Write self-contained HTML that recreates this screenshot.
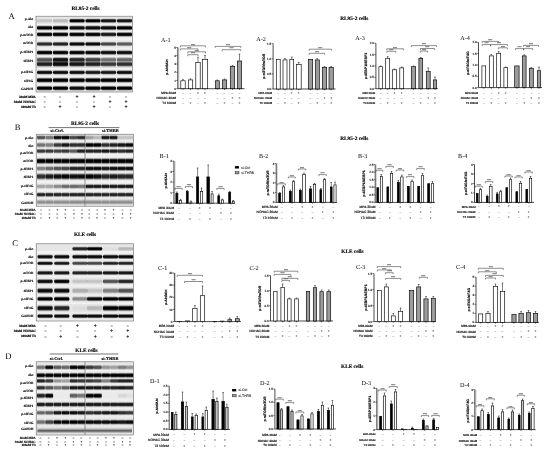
<!DOCTYPE html>
<html><head><meta charset="utf-8"><title>Figure</title>
<style>html,body{margin:0;padding:0;background:#fff;overflow:hidden;width:550px;height:454px;} svg{display:block;}</style>
</head><body>
<svg width="550" height="454" viewBox="0 0 550 454">
<style>text{text-rendering:geometricPrecision}.s{font-family:"Liberation Serif",serif}.sb{font-family:"Liberation Serif",serif;font-weight:bold}.a{font-family:"Liberation Sans",sans-serif}.ab{font-family:"Liberation Sans",sans-serif;font-weight:bold}.m{text-anchor:middle}.e{text-anchor:end}</style>
<rect width="550" height="454" fill="#fff"/>
<defs><linearGradient id="gb" x1="0" y1="0" x2="0" y2="1"><stop offset="0" stop-color="#000" stop-opacity="0"/><stop offset="0.14" stop-color="#000" stop-opacity="0.3"/><stop offset="0.28" stop-color="#000" stop-opacity="0.85"/><stop offset="0.4" stop-color="#000"/><stop offset="0.6" stop-color="#000"/><stop offset="0.72" stop-color="#000" stop-opacity="0.85"/><stop offset="0.86" stop-color="#000" stop-opacity="0.3"/><stop offset="1" stop-color="#000" stop-opacity="0"/></linearGradient>
<linearGradient id="gs" x1="0" y1="0" x2="0" y2="1"><stop offset="0" stop-color="#000" stop-opacity="0"/><stop offset="0.5" stop-color="#000"/><stop offset="1" stop-color="#000" stop-opacity="0"/></linearGradient></defs>
<text class="s" x="8.4" y="18.9" font-size="8.6">A</text>
<text class="sb m" x="85.5" y="10" font-size="5.3" stroke="#000" stroke-width="0.15">RL95-2 cells</text>
<rect x="36" y="16.2" width="96.5" height="75.8" fill="#f1f1f1"/>
<rect x="36" y="17" width="96.5" height="7" fill="#e6e6e6"/>
<rect x="36" y="25" width="96.5" height="6" fill="#e7e7e7"/>
<rect x="36" y="31.6" width="96.5" height="6" fill="#e8e8e8"/>
<rect x="36" y="40.5" width="96.5" height="7" fill="#e8e8e8"/>
<rect x="36" y="49.5" width="96.5" height="6.5" fill="#e8e8e8"/>
<rect x="36" y="57" width="96.5" height="11" fill="#dedede"/>
<rect x="36" y="69.5" width="96.5" height="6" fill="#e8e8e8"/>
<rect x="36" y="77" width="96.5" height="6.5" fill="#e6e6e6"/>
<rect x="36" y="85" width="96.5" height="6.5" fill="#e6e6e6"/>
<rect x="37" y="18.2" width="15.2" height="5.2" rx="2.43" ry="2.34" fill="url(#gb)" opacity="0.15"/>
<rect x="52.9" y="18.2" width="15.2" height="5.2" rx="2.43" ry="2.34" fill="url(#gb)" opacity="0.2"/>
<rect x="69.5" y="18.2" width="15.2" height="5.2" rx="2.43" ry="2.34" fill="url(#gb)" opacity="1"/>
<rect x="85.4" y="18.2" width="15.2" height="5.2" rx="2.43" ry="2.34" fill="url(#gb)" opacity="1"/>
<rect x="101" y="18.2" width="15.2" height="5.2" rx="2.43" ry="2.34" fill="url(#gb)" opacity="0.92"/>
<rect x="116.9" y="18.2" width="15.2" height="5.2" rx="2.43" ry="2.34" fill="url(#gb)" opacity="0.92"/>
<rect x="37" y="25.1" width="15.2" height="5.6" rx="2.43" ry="2.52" fill="url(#gb)" opacity="1"/>
<rect x="52.9" y="25.1" width="15.2" height="5.6" rx="2.43" ry="2.52" fill="url(#gb)" opacity="1"/>
<rect x="69.5" y="25.1" width="15.2" height="5.6" rx="2.43" ry="2.52" fill="url(#gb)" opacity="0.95"/>
<rect x="85.4" y="25.1" width="15.2" height="5.6" rx="2.43" ry="2.52" fill="url(#gb)" opacity="0.95"/>
<rect x="101" y="25.1" width="15.2" height="5.6" rx="2.43" ry="2.52" fill="url(#gb)" opacity="0.95"/>
<rect x="116.9" y="25.1" width="15.2" height="5.6" rx="2.43" ry="2.52" fill="url(#gb)" opacity="1"/>
<rect x="37" y="31.6" width="15.2" height="5.6" rx="2.43" ry="2.52" fill="url(#gb)" opacity="1"/>
<rect x="52.9" y="31.6" width="15.2" height="5.6" rx="2.43" ry="2.52" fill="url(#gb)" opacity="1"/>
<rect x="69.5" y="31.6" width="15.2" height="5.6" rx="2.43" ry="2.52" fill="url(#gb)" opacity="1"/>
<rect x="85.4" y="31.6" width="15.2" height="5.6" rx="2.43" ry="2.52" fill="url(#gb)" opacity="1"/>
<rect x="101" y="31.6" width="15.2" height="5.6" rx="2.43" ry="2.52" fill="url(#gb)" opacity="0.9"/>
<rect x="116.9" y="31.6" width="15.2" height="5.6" rx="2.43" ry="2.52" fill="url(#gb)" opacity="1"/>
<rect x="37" y="41.3" width="15.2" height="5.4" rx="2.43" ry="2.43" fill="url(#gb)" opacity="0.8"/>
<rect x="52.9" y="41.3" width="15.2" height="5.4" rx="2.43" ry="2.43" fill="url(#gb)" opacity="0.85"/>
<rect x="69.5" y="41.3" width="15.2" height="5.4" rx="2.43" ry="2.43" fill="url(#gb)" opacity="0.95"/>
<rect x="85.4" y="41.3" width="15.2" height="5.4" rx="2.43" ry="2.43" fill="url(#gb)" opacity="0.95"/>
<rect x="101" y="41.3" width="15.2" height="5.4" rx="2.43" ry="2.43" fill="url(#gb)" opacity="0.7"/>
<rect x="116.9" y="41.3" width="15.2" height="5.4" rx="2.43" ry="2.43" fill="url(#gb)" opacity="0.6"/>
<rect x="37" y="49.8" width="15.2" height="5.6" rx="2.43" ry="2.52" fill="url(#gb)" opacity="1"/>
<rect x="52.9" y="49.8" width="15.2" height="5.6" rx="2.43" ry="2.52" fill="url(#gb)" opacity="1"/>
<rect x="69.5" y="49.8" width="15.2" height="5.6" rx="2.43" ry="2.52" fill="url(#gb)" opacity="1"/>
<rect x="85.4" y="49.8" width="15.2" height="5.6" rx="2.43" ry="2.52" fill="url(#gb)" opacity="1"/>
<rect x="101" y="49.8" width="15.2" height="5.6" rx="2.43" ry="2.52" fill="url(#gb)" opacity="0.95"/>
<rect x="116.9" y="49.8" width="15.2" height="5.6" rx="2.43" ry="2.52" fill="url(#gb)" opacity="0.95"/>
<rect x="37" y="56.7" width="15.2" height="10.6" rx="2.43" ry="4.77" fill="url(#gb)" opacity="0.35"/>
<rect x="52.9" y="56.7" width="15.2" height="10.6" rx="2.43" ry="4.77" fill="url(#gb)" opacity="0.6"/>
<rect x="69.5" y="56.7" width="15.2" height="10.6" rx="2.43" ry="4.77" fill="url(#gb)" opacity="0.45"/>
<rect x="85.4" y="56.7" width="15.2" height="10.6" rx="2.43" ry="4.77" fill="url(#gb)" opacity="0.35"/>
<rect x="101" y="56.7" width="15.2" height="10.6" rx="2.43" ry="4.77" fill="url(#gb)" opacity="0.2"/>
<rect x="116.9" y="56.7" width="15.2" height="10.6" rx="2.43" ry="4.77" fill="url(#gb)" opacity="0.22"/>
<rect x="37" y="57" width="15.2" height="5.2" rx="2.43" ry="2.34" fill="url(#gb)" opacity="0.5"/>
<rect x="52.9" y="57" width="15.2" height="5.2" rx="2.43" ry="2.34" fill="url(#gb)" opacity="0.85"/>
<rect x="69.5" y="57" width="15.2" height="5.2" rx="2.43" ry="2.34" fill="url(#gb)" opacity="0.75"/>
<rect x="85.4" y="57" width="15.2" height="5.2" rx="2.43" ry="2.34" fill="url(#gb)" opacity="0.6"/>
<rect x="101" y="57" width="15.2" height="5.2" rx="2.43" ry="2.34" fill="url(#gb)" opacity="0.4"/>
<rect x="116.9" y="57" width="15.2" height="5.2" rx="2.43" ry="2.34" fill="url(#gb)" opacity="0.45"/>
<rect x="37" y="61.3" width="15.2" height="5.8" rx="2.43" ry="2.61" fill="url(#gb)" opacity="0.8"/>
<rect x="52.9" y="61.3" width="15.2" height="5.8" rx="2.43" ry="2.61" fill="url(#gb)" opacity="0.9"/>
<rect x="69.5" y="61.3" width="15.2" height="5.8" rx="2.43" ry="2.61" fill="url(#gb)" opacity="0.85"/>
<rect x="85.4" y="61.3" width="15.2" height="5.8" rx="2.43" ry="2.61" fill="url(#gb)" opacity="0.8"/>
<rect x="101" y="61.3" width="15.2" height="5.8" rx="2.43" ry="2.61" fill="url(#gb)" opacity="0.7"/>
<rect x="116.9" y="61.3" width="15.2" height="5.8" rx="2.43" ry="2.61" fill="url(#gb)" opacity="0.75"/>
<rect x="37" y="69.8" width="15.2" height="5.2" rx="2.43" ry="2.34" fill="url(#gb)" opacity="0.95"/>
<rect x="52.9" y="69.8" width="15.2" height="5.2" rx="2.43" ry="2.34" fill="url(#gb)" opacity="0.95"/>
<rect x="69.5" y="69.8" width="15.2" height="5.2" rx="2.43" ry="2.34" fill="url(#gb)" opacity="0.95"/>
<rect x="85.4" y="69.8" width="15.2" height="5.2" rx="2.43" ry="2.34" fill="url(#gb)" opacity="0.9"/>
<rect x="101" y="69.8" width="15.2" height="5.2" rx="2.43" ry="2.34" fill="url(#gb)" opacity="0.9"/>
<rect x="116.9" y="69.8" width="15.2" height="5.2" rx="2.43" ry="2.34" fill="url(#gb)" opacity="0.95"/>
<rect x="37" y="77.2" width="15.2" height="6" rx="2.43" ry="2.7" fill="url(#gb)" opacity="1"/>
<rect x="52.9" y="77.2" width="15.2" height="6" rx="2.43" ry="2.7" fill="url(#gb)" opacity="1"/>
<rect x="69.5" y="77.2" width="15.2" height="6" rx="2.43" ry="2.7" fill="url(#gb)" opacity="1"/>
<rect x="85.4" y="77.2" width="15.2" height="6" rx="2.43" ry="2.7" fill="url(#gb)" opacity="1"/>
<rect x="101" y="77.2" width="15.2" height="6" rx="2.43" ry="2.7" fill="url(#gb)" opacity="1"/>
<rect x="116.9" y="77.2" width="15.2" height="6" rx="2.43" ry="2.7" fill="url(#gb)" opacity="1"/>
<rect x="37" y="85.4" width="15.2" height="5.6" rx="2.43" ry="2.52" fill="url(#gb)" opacity="1"/>
<rect x="52.9" y="85.4" width="15.2" height="5.6" rx="2.43" ry="2.52" fill="url(#gb)" opacity="1"/>
<rect x="69.5" y="85.4" width="15.2" height="5.6" rx="2.43" ry="2.52" fill="url(#gb)" opacity="0.95"/>
<rect x="85.4" y="85.4" width="15.2" height="5.6" rx="2.43" ry="2.52" fill="url(#gb)" opacity="1"/>
<rect x="101" y="85.4" width="15.2" height="5.6" rx="2.43" ry="2.52" fill="url(#gb)" opacity="1"/>
<rect x="116.9" y="85.4" width="15.2" height="5.6" rx="2.43" ry="2.52" fill="url(#gb)" opacity="1"/>
<rect x="36.00" y="16.20" width="96.50" height="75.80" fill="none" stroke="#666" stroke-width="0.6"/>
<text class="sb e" x="33.2" y="19.7" font-size="3.4" stroke="#000" stroke-width="0.1">p-Akt</text>
<text class="sb e" x="33.2" y="28.2" font-size="3.4" stroke="#000" stroke-width="0.1">Akt</text>
<text class="sb e" x="33.2" y="35.7" font-size="3.4" stroke="#000" stroke-width="0.1">p-mTOR</text>
<text class="sb e" x="33.2" y="44.2" font-size="3.4" stroke="#000" stroke-width="0.1">mTOR</text>
<text class="sb e" x="33.2" y="53.2" font-size="3.4" stroke="#000" stroke-width="0.1">p-4EBP1</text>
<text class="sb e" x="33.2" y="61.7" font-size="3.4" stroke="#000" stroke-width="0.1">4EBP1</text>
<text class="sb e" x="33.2" y="73.2" font-size="3.4" stroke="#000" stroke-width="0.1">p-eIF4G</text>
<text class="sb e" x="33.2" y="81.7" font-size="3.4" stroke="#000" stroke-width="0.1">eIF4G</text>
<text class="sb e" x="33.2" y="89.7" font-size="3.4" stroke="#000" stroke-width="0.1">GAPDH</text>
<text class="sb e" x="35.8" y="97.8" font-size="3.4" stroke="#000" stroke-width="0.16">30uM MPA</text>
<text class="sb e" x="35.8" y="102.7" font-size="3.4" stroke="#000" stroke-width="0.16">30uM NOHAC</text>
<text class="sb e" x="35.8" y="107.6" font-size="3.4" stroke="#000" stroke-width="0.16">100nM T3</text>
<text class="ab m" x="77 94" y="98.1" font-size="4.4" fill="#222" stroke="#222" stroke-width="0.2">++</text>
<text class="ab m" x="44.6 60 110 126" y="98.1" font-size="3.4" fill="#222" stroke="#222" stroke-width="0.2">––––</text>
<text class="ab m" x="110 126" y="103" font-size="4.4" fill="#222" stroke="#222" stroke-width="0.2">++</text>
<text class="ab m" x="44.6 60 77 94" y="103" font-size="3.4" fill="#222" stroke="#222" stroke-width="0.2">––––</text>
<text class="ab m" x="60 94 126" y="107.9" font-size="4.4" fill="#222" stroke="#222" stroke-width="0.2">+++</text>
<text class="ab m" x="44.6 77 110" y="107.9" font-size="3.4" fill="#222" stroke="#222" stroke-width="0.2">–––</text>
<text class="sb m" x="354.3" y="20" font-size="5.3" stroke="#000" stroke-width="0.15">RL95-2 cells</text>
<text class="s" x="161" y="41.7" font-size="6.2">A-1</text>
<rect x="178.05" y="47.5" width="1.4" height="41.2" fill="#d4d4d4"/>
<path d="M177.75 47.5L177.75 88.7" stroke="#000" stroke-width="0.7"/>
<path d="M177.75 88.7L244.5 88.7" stroke="#000" stroke-width="0.7"/>
<path d="M176.15 88.7L177.75 88.7" stroke="#000" stroke-width="0.5"/>
<text class="a e" x="175.85" y="89.75" font-size="3.0" fill="#222" stroke="#222" stroke-width="0.14">0</text>
<path d="M176.15 80.46L177.75 80.46" stroke="#000" stroke-width="0.5"/>
<text class="a e" x="175.85" y="81.51" font-size="3.0" fill="#222" stroke="#222" stroke-width="0.14">1</text>
<path d="M176.15 72.22L177.75 72.22" stroke="#000" stroke-width="0.5"/>
<text class="a e" x="175.85" y="73.27" font-size="3.0" fill="#222" stroke="#222" stroke-width="0.14">2</text>
<path d="M176.15 63.98L177.75 63.98" stroke="#000" stroke-width="0.5"/>
<text class="a e" x="175.85" y="65.03" font-size="3.0" fill="#222" stroke="#222" stroke-width="0.14">3</text>
<path d="M176.15 55.74L177.75 55.74" stroke="#000" stroke-width="0.5"/>
<text class="a e" x="175.85" y="56.79" font-size="3.0" fill="#222" stroke="#222" stroke-width="0.14">4</text>
<path d="M176.15 47.5L177.75 47.5" stroke="#000" stroke-width="0.5"/>
<text class="a e" x="175.85" y="48.55" font-size="3.0" fill="#222" stroke="#222" stroke-width="0.14">5</text>
<text class="ab m" x="168.45" y="67.1" font-size="3.5" stroke="#000" stroke-width="0.16" transform="rotate(-90 168.45 67.1)">p-Akt/Akt</text>
<path d="M183 79.5L183 80.5" stroke="#000" stroke-width="0.5"/>
<path d="M182.2 79.5L183.8 79.5" stroke="#000" stroke-width="0.5"/>
<rect x="180.8" y="80.8" width="4.4" height="7.9" fill="#fff" stroke="#000" stroke-width="0.65"/>
<path d="M190.5 78.8L190.5 79.6" stroke="#000" stroke-width="0.5"/>
<path d="M189.7 78.8L191.3 78.8" stroke="#000" stroke-width="0.5"/>
<rect x="188.3" y="79.9" width="4.4" height="8.8" fill="#fff" stroke="#000" stroke-width="0.65"/>
<path d="M198 57.3L198 62" stroke="#000" stroke-width="0.5"/>
<path d="M197.2 57.3L198.8 57.3" stroke="#000" stroke-width="0.5"/>
<rect x="195.8" y="62.3" width="4.4" height="26.4" fill="#fff" stroke="#000" stroke-width="0.65"/>
<path d="M205 55.5L205 59" stroke="#000" stroke-width="0.5"/>
<path d="M204.2 55.5L205.8 55.5" stroke="#000" stroke-width="0.5"/>
<rect x="202.3" y="59.3" width="5.4" height="29.4" fill="#fff" stroke="#000" stroke-width="0.65"/>
<path d="M217.3 80L217.3 80.5" stroke="#000" stroke-width="0.5"/>
<path d="M216.5 80L218.1 80" stroke="#000" stroke-width="0.5"/>
<rect x="215.3" y="80.8" width="4" height="7.9" fill="#9c9c9c" stroke="#000" stroke-width="0.65"/>
<path d="M224.5 79L224.5 79.6" stroke="#000" stroke-width="0.5"/>
<path d="M223.7 79L225.3 79" stroke="#000" stroke-width="0.5"/>
<rect x="222.3" y="79.9" width="4.4" height="8.8" fill="#9c9c9c" stroke="#000" stroke-width="0.65"/>
<path d="M232.5 65.5L232.5 66" stroke="#000" stroke-width="0.5"/>
<path d="M231.7 65.5L233.3 65.5" stroke="#000" stroke-width="0.5"/>
<rect x="230.3" y="66.3" width="4.4" height="22.4" fill="#9c9c9c" stroke="#000" stroke-width="0.65"/>
<path d="M239.5 54L239.5 60.7" stroke="#000" stroke-width="0.5"/>
<path d="M238.7 54L240.3 54" stroke="#000" stroke-width="0.5"/>
<rect x="237.3" y="61" width="4.4" height="27.7" fill="#9c9c9c" stroke="#000" stroke-width="0.65"/>
<path d="M180.5 47.3V45.8H205.5V47.3" fill="none" stroke="#333" stroke-width="0.55"/>
<text class="a m" x="193" y="45.55" font-size="2.6" fill="#555" stroke="#555" stroke-width="0.1">****</text>
<path d="M180.5 50.4V48.9H198V50.4" fill="none" stroke="#333" stroke-width="0.55"/>
<text class="a m" x="189.25" y="48.65" font-size="2.6" fill="#555" stroke="#555" stroke-width="0.1">****</text>
<path d="M187.8 53.3V51.8H205.5V53.3" fill="none" stroke="#333" stroke-width="0.55"/>
<text class="a m" x="196.65" y="51.55" font-size="2.6" fill="#555" stroke="#555" stroke-width="0.1">****</text>
<path d="M187.8 56.2V54.7H198V56.2" fill="none" stroke="#333" stroke-width="0.55"/>
<text class="a m" x="192.9" y="54.45" font-size="2.6" fill="#555" stroke="#555" stroke-width="0.1">****</text>
<path d="M215.1 47.9V46.4H240.7V47.9" fill="none" stroke="#333" stroke-width="0.55"/>
<text class="a m" x="227.9" y="46.15" font-size="2.6" fill="#555" stroke="#555" stroke-width="0.1">****</text>
<path d="M222.1 51.2V49.7H240.7V51.2" fill="none" stroke="#333" stroke-width="0.55"/>
<text class="a m" x="231.4" y="49.45" font-size="2.6" fill="#555" stroke="#555" stroke-width="0.1">****</text>
<text class="a e" x="176.2" y="94" font-size="3.1" fill="#222" stroke="#222" stroke-width="0.18">MPA 30uM</text>
<text class="a e" x="176.2" y="99.3" font-size="3.1" fill="#222" stroke="#222" stroke-width="0.18">NOHAC 30uM</text>
<text class="a e" x="176.2" y="104.4" font-size="3.1" fill="#222" stroke="#222" stroke-width="0.18">T3 100nM</text>
<path d="M183 88.7v1.3M190.5 88.7v1.3M198 88.7v1.3M205 88.7v1.3M217.3 88.7v1.3M224.5 88.7v1.3M232.5 88.7v1.3M239.5 88.7v1.3" stroke="#000" stroke-width="0.5"/>
<text class="ab m" x="198 205" y="93.9" font-size="3.2" fill="#555" stroke="#555" stroke-width="0.1">++</text>
<text class="ab m" x="183 190.5 217.3 224.5 232.5 239.5" y="93.9" font-size="3.2" fill="#555" stroke="#555" stroke-width="0.1">––––––</text>
<text class="ab m" x="232.5 239.5" y="99.2" font-size="3.2" fill="#555" stroke="#555" stroke-width="0.1">++</text>
<text class="ab m" x="183 190.5 198 205 217.3 224.5" y="99.2" font-size="3.2" fill="#555" stroke="#555" stroke-width="0.1">––––––</text>
<text class="ab m" x="190.5 205 224.5 239.5" y="104.3" font-size="3.2" fill="#555" stroke="#555" stroke-width="0.1">++++</text>
<text class="ab m" x="183 198 217.3 232.5" y="104.3" font-size="3.2" fill="#555" stroke="#555" stroke-width="0.1">––––</text>
<text class="s" x="256.2" y="40.7" font-size="6.2">A-2</text>
<path d="M273.1 43.6L273.1 89" stroke="#000" stroke-width="0.7"/>
<path d="M273.1 89L335.5 89" stroke="#000" stroke-width="0.7"/>
<path d="M271.5 89L273.1 89" stroke="#000" stroke-width="0.5"/>
<text class="a e" x="271.2" y="90.05" font-size="3.0" fill="#222" stroke="#222" stroke-width="0.14">0.0</text>
<path d="M271.5 73.87L273.1 73.87" stroke="#000" stroke-width="0.5"/>
<text class="a e" x="271.2" y="74.92" font-size="3.0" fill="#222" stroke="#222" stroke-width="0.14">0.5</text>
<path d="M271.5 58.73L273.1 58.73" stroke="#000" stroke-width="0.5"/>
<text class="a e" x="271.2" y="59.78" font-size="3.0" fill="#222" stroke="#222" stroke-width="0.14">1.0</text>
<path d="M271.5 43.6L273.1 43.6" stroke="#000" stroke-width="0.5"/>
<text class="a e" x="271.2" y="44.65" font-size="3.0" fill="#222" stroke="#222" stroke-width="0.14">1.5</text>
<text class="ab m" x="264.8" y="66.3" font-size="3.5" stroke="#000" stroke-width="0.16" transform="rotate(-90 264.8 66.3)">p-mTOR/mTOR</text>
<rect x="276.3" y="59.3" width="3.9" height="29.7" fill="#fff" stroke="#000" stroke-width="0.65"/>
<path d="M285 58.5L285 59.6" stroke="#000" stroke-width="0.5"/>
<path d="M284.2 58.5L285.8 58.5" stroke="#000" stroke-width="0.5"/>
<rect x="283" y="59.9" width="4" height="29.1" fill="#fff" stroke="#000" stroke-width="0.65"/>
<path d="M291.75 57L291.75 59" stroke="#000" stroke-width="0.5"/>
<path d="M290.95 57L292.55 57" stroke="#000" stroke-width="0.5"/>
<rect x="289.8" y="59.3" width="3.9" height="29.7" fill="#fff" stroke="#000" stroke-width="0.65"/>
<path d="M298.75 62.5L298.75 64" stroke="#000" stroke-width="0.5"/>
<path d="M297.95 62.5L299.55 62.5" stroke="#000" stroke-width="0.5"/>
<rect x="296.3" y="64.3" width="4.9" height="24.7" fill="#fff" stroke="#000" stroke-width="0.65"/>
<rect x="308.3" y="59.3" width="4.4" height="29.7" fill="#9c9c9c" stroke="#000" stroke-width="0.65"/>
<path d="M317.3 58.6L317.3 59.6" stroke="#000" stroke-width="0.5"/>
<path d="M316.5 58.6L318.1 58.6" stroke="#000" stroke-width="0.5"/>
<rect x="315.3" y="59.9" width="4" height="29.1" fill="#9c9c9c" stroke="#000" stroke-width="0.65"/>
<path d="M324.5 66.5L324.5 67" stroke="#000" stroke-width="0.5"/>
<path d="M323.7 66.5L325.3 66.5" stroke="#000" stroke-width="0.5"/>
<rect x="322.3" y="67.3" width="4.4" height="21.7" fill="#9c9c9c" stroke="#000" stroke-width="0.65"/>
<path d="M331.15 66.5L331.15 67" stroke="#000" stroke-width="0.5"/>
<path d="M330.35 66.5L331.95 66.5" stroke="#000" stroke-width="0.5"/>
<rect x="329" y="67.3" width="4.3" height="21.7" fill="#9c9c9c" stroke="#000" stroke-width="0.65"/>
<path d="M309.1 50.7V49.2H331.6V50.7" fill="none" stroke="#333" stroke-width="0.55"/>
<text class="a m" x="320.35" y="48.95" font-size="2.6" fill="#555" stroke="#555" stroke-width="0.1">****</text>
<path d="M309.1 54.8V53.3H324.7V54.8" fill="none" stroke="#333" stroke-width="0.55"/>
<text class="a m" x="316.9" y="53.05" font-size="2.6" fill="#555" stroke="#555" stroke-width="0.1">****</text>
<text class="a e" x="272.2" y="94" font-size="2.85" fill="#222" stroke="#222" stroke-width="0.18">MPA 30uM</text>
<text class="a e" x="272.2" y="99.3" font-size="2.85" fill="#222" stroke="#222" stroke-width="0.18">NOHAC 30uM</text>
<text class="a e" x="272.2" y="104.4" font-size="2.85" fill="#222" stroke="#222" stroke-width="0.18">T3 100nM</text>
<path d="M278.25 89v1.3M285 89v1.3M291.75 89v1.3M298.75 89v1.3M310.5 89v1.3M317.3 89v1.3M324.5 89v1.3M331.15 89v1.3" stroke="#000" stroke-width="0.5"/>
<text class="ab m" x="291.75 298.75" y="93.9" font-size="3.2" fill="#555" stroke="#555" stroke-width="0.1">++</text>
<text class="ab m" x="278.25 285 310.5 317.3 324.5 331.15" y="93.9" font-size="3.2" fill="#555" stroke="#555" stroke-width="0.1">––––––</text>
<text class="ab m" x="324.5 331.15" y="99.2" font-size="3.2" fill="#555" stroke="#555" stroke-width="0.1">++</text>
<text class="ab m" x="278.25 285 291.75 298.75 310.5 317.3" y="99.2" font-size="3.2" fill="#555" stroke="#555" stroke-width="0.1">––––––</text>
<text class="ab m" x="285 298.75 317.3 331.15" y="104.3" font-size="3.2" fill="#555" stroke="#555" stroke-width="0.1">++++</text>
<text class="ab m" x="278.25 291.75 310.5 324.5" y="104.3" font-size="3.2" fill="#555" stroke="#555" stroke-width="0.1">––––</text>
<text class="s" x="355.3" y="40.2" font-size="6.2">A-3</text>
<path d="M375.9 43.3L375.9 88.7" stroke="#000" stroke-width="0.7"/>
<path d="M375.9 88.7L437.7 88.7" stroke="#000" stroke-width="0.7"/>
<path d="M374.3 88.7L375.9 88.7" stroke="#000" stroke-width="0.5"/>
<text class="a e" x="374" y="89.75" font-size="3.0" fill="#222" stroke="#222" stroke-width="0.14">0.0</text>
<path d="M374.3 77.35L375.9 77.35" stroke="#000" stroke-width="0.5"/>
<text class="a e" x="374" y="78.4" font-size="3.0" fill="#222" stroke="#222" stroke-width="0.14">0.5</text>
<path d="M374.3 66L375.9 66" stroke="#000" stroke-width="0.5"/>
<text class="a e" x="374" y="67.05" font-size="3.0" fill="#222" stroke="#222" stroke-width="0.14">1.0</text>
<path d="M374.3 54.65L375.9 54.65" stroke="#000" stroke-width="0.5"/>
<text class="a e" x="374" y="55.7" font-size="3.0" fill="#222" stroke="#222" stroke-width="0.14">1.5</text>
<path d="M374.3 43.3L375.9 43.3" stroke="#000" stroke-width="0.5"/>
<text class="a e" x="374" y="44.35" font-size="3.0" fill="#222" stroke="#222" stroke-width="0.14">2.0</text>
<text class="ab m" x="367.3" y="66" font-size="3.5" stroke="#000" stroke-width="0.16" transform="rotate(-90 367.3 66)">p-4EBP1/4EBP1</text>
<path d="M380.7 66L380.7 66.4" stroke="#000" stroke-width="0.5"/>
<path d="M379.9 66L381.5 66" stroke="#000" stroke-width="0.5"/>
<rect x="378.9" y="66.7" width="3.6" height="22" fill="#fff" stroke="#000" stroke-width="0.65"/>
<path d="M387.7 56.5L387.7 58" stroke="#000" stroke-width="0.5"/>
<path d="M386.9 56.5L388.5 56.5" stroke="#000" stroke-width="0.5"/>
<rect x="385.7" y="58.3" width="4" height="30.4" fill="#fff" stroke="#000" stroke-width="0.65"/>
<path d="M394.5 69L394.5 69.5" stroke="#000" stroke-width="0.5"/>
<path d="M393.7 69L395.3 69" stroke="#000" stroke-width="0.5"/>
<rect x="392.3" y="69.8" width="4.4" height="18.9" fill="#fff" stroke="#000" stroke-width="0.65"/>
<path d="M401.75 67L401.75 67.6" stroke="#000" stroke-width="0.5"/>
<path d="M400.95 67L402.55 67" stroke="#000" stroke-width="0.5"/>
<rect x="399.8" y="67.9" width="3.9" height="20.8" fill="#fff" stroke="#000" stroke-width="0.65"/>
<path d="M413.5 66L413.5 66.4" stroke="#000" stroke-width="0.5"/>
<path d="M412.7 66L414.3 66" stroke="#000" stroke-width="0.5"/>
<rect x="411.3" y="66.7" width="4.4" height="22" fill="#9c9c9c" stroke="#000" stroke-width="0.65"/>
<path d="M420.8 57.5L420.8 58" stroke="#000" stroke-width="0.5"/>
<path d="M420 57.5L421.6 57.5" stroke="#000" stroke-width="0.5"/>
<rect x="418.9" y="58.3" width="3.8" height="30.4" fill="#9c9c9c" stroke="#000" stroke-width="0.65"/>
<path d="M428.25 68L428.25 71" stroke="#000" stroke-width="0.5"/>
<path d="M427.45 68L429.05 68" stroke="#000" stroke-width="0.5"/>
<rect x="426.3" y="71.3" width="3.9" height="17.4" fill="#9c9c9c" stroke="#000" stroke-width="0.65"/>
<path d="M435 77L435 79.6" stroke="#000" stroke-width="0.5"/>
<path d="M434.2 77L435.8 77" stroke="#000" stroke-width="0.5"/>
<rect x="433.3" y="79.9" width="3.4" height="8.8" fill="#9c9c9c" stroke="#000" stroke-width="0.65"/>
<path d="M386.8 50.3V48.8H403.4V50.3" fill="none" stroke="#333" stroke-width="0.55"/>
<text class="a m" x="395.1" y="48.55" font-size="2.6" fill="#555" stroke="#555" stroke-width="0.1">****</text>
<path d="M386.8 52.8V51.3H395.8V52.8" fill="none" stroke="#333" stroke-width="0.55"/>
<text class="a m" x="391.3" y="51.05" font-size="2.6" fill="#555" stroke="#555" stroke-width="0.1">****</text>
<path d="M411.3 47.1V45.6H436.6V47.1" fill="none" stroke="#333" stroke-width="0.55"/>
<text class="a m" x="423.95" y="45.35" font-size="2.6" fill="#555" stroke="#555" stroke-width="0.1">****</text>
<path d="M420.3 50V48.5H434.4V50" fill="none" stroke="#333" stroke-width="0.55"/>
<text class="a m" x="427.35" y="48.25" font-size="2.6" fill="#555" stroke="#555" stroke-width="0.1">****</text>
<path d="M420.3 52.5V51H427.6V52.5" fill="none" stroke="#333" stroke-width="0.55"/>
<text class="a m" x="423.95" y="50.75" font-size="2.6" fill="#555" stroke="#555" stroke-width="0.1">****</text>
<text class="a e" x="375.2" y="94" font-size="2.65" fill="#222" stroke="#222" stroke-width="0.18">MPA 30uM</text>
<text class="a e" x="375.2" y="99.3" font-size="2.65" fill="#222" stroke="#222" stroke-width="0.18">NOHAC 30uM</text>
<text class="a e" x="375.2" y="104.4" font-size="2.65" fill="#222" stroke="#222" stroke-width="0.18">T3 100nM</text>
<path d="M380.7 88.7v1.3M387.7 88.7v1.3M394.5 88.7v1.3M401.75 88.7v1.3M413.5 88.7v1.3M420.8 88.7v1.3M428.25 88.7v1.3M435 88.7v1.3" stroke="#000" stroke-width="0.5"/>
<text class="ab m" x="394.5 401.75" y="93.9" font-size="3.2" fill="#555" stroke="#555" stroke-width="0.1">++</text>
<text class="ab m" x="380.7 387.7 413.5 420.8 428.25 435" y="93.9" font-size="3.2" fill="#555" stroke="#555" stroke-width="0.1">––––––</text>
<text class="ab m" x="428.25 435" y="99.2" font-size="3.2" fill="#555" stroke="#555" stroke-width="0.1">++</text>
<text class="ab m" x="380.7 387.7 394.5 401.75 413.5 420.8" y="99.2" font-size="3.2" fill="#555" stroke="#555" stroke-width="0.1">––––––</text>
<text class="ab m" x="387.7 401.75 420.8 435" y="104.3" font-size="3.2" fill="#555" stroke="#555" stroke-width="0.1">++++</text>
<text class="ab m" x="380.7 394.5 413.5 428.25" y="104.3" font-size="3.2" fill="#555" stroke="#555" stroke-width="0.1">––––</text>
<text class="s" x="460.3" y="39.6" font-size="6.2">A-4</text>
<path d="M478.5 42.4L478.5 87.6" stroke="#000" stroke-width="0.7"/>
<path d="M478.5 87.6L542 87.6" stroke="#000" stroke-width="0.7"/>
<path d="M476.9 87.6L478.5 87.6" stroke="#000" stroke-width="0.5"/>
<text class="a e" x="476.6" y="88.65" font-size="3.0" fill="#222" stroke="#222" stroke-width="0.14">0.0</text>
<path d="M476.9 76.3L478.5 76.3" stroke="#000" stroke-width="0.5"/>
<text class="a e" x="476.6" y="77.35" font-size="3.0" fill="#222" stroke="#222" stroke-width="0.14">0.5</text>
<path d="M476.9 65L478.5 65" stroke="#000" stroke-width="0.5"/>
<text class="a e" x="476.6" y="66.05" font-size="3.0" fill="#222" stroke="#222" stroke-width="0.14">1.0</text>
<path d="M476.9 53.7L478.5 53.7" stroke="#000" stroke-width="0.5"/>
<text class="a e" x="476.6" y="54.75" font-size="3.0" fill="#222" stroke="#222" stroke-width="0.14">1.5</text>
<path d="M476.9 42.4L478.5 42.4" stroke="#000" stroke-width="0.5"/>
<text class="a e" x="476.6" y="43.45" font-size="3.0" fill="#222" stroke="#222" stroke-width="0.14">2.0</text>
<text class="ab m" x="468.9" y="63.2" font-size="3.5" stroke="#000" stroke-width="0.16" transform="rotate(-90 468.9 63.2)">p-eIF4G/eIF4G</text>
<rect x="481.9" y="65.9" width="3.8" height="21.7" fill="#fff" stroke="#000" stroke-width="0.65"/>
<path d="M491.3 54.5L491.3 55.6" stroke="#000" stroke-width="0.5"/>
<path d="M490.5 54.5L492.1 54.5" stroke="#000" stroke-width="0.5"/>
<rect x="489.3" y="55.9" width="4" height="31.7" fill="#fff" stroke="#000" stroke-width="0.65"/>
<path d="M498.7 51.5L498.7 53" stroke="#000" stroke-width="0.5"/>
<path d="M497.9 51.5L499.5 51.5" stroke="#000" stroke-width="0.5"/>
<rect x="496.7" y="53.3" width="4" height="34.3" fill="#fff" stroke="#000" stroke-width="0.65"/>
<path d="M505.8 67L505.8 67.4" stroke="#000" stroke-width="0.5"/>
<path d="M505 67L506.6 67" stroke="#000" stroke-width="0.5"/>
<rect x="503.9" y="67.7" width="3.8" height="19.9" fill="#fff" stroke="#000" stroke-width="0.65"/>
<rect x="514.7" y="65.9" width="4.4" height="21.7" fill="#9c9c9c" stroke="#000" stroke-width="0.65"/>
<path d="M524.2 54.8L524.2 55.6" stroke="#000" stroke-width="0.5"/>
<path d="M523.4 54.8L525 54.8" stroke="#000" stroke-width="0.5"/>
<rect x="522.3" y="55.9" width="3.8" height="31.7" fill="#9c9c9c" stroke="#000" stroke-width="0.65"/>
<path d="M531.3 67.5L531.3 68" stroke="#000" stroke-width="0.5"/>
<path d="M530.5 67.5L532.1 67.5" stroke="#000" stroke-width="0.5"/>
<rect x="529.3" y="68.3" width="4" height="19.3" fill="#9c9c9c" stroke="#000" stroke-width="0.65"/>
<path d="M539 67L539 70.4" stroke="#000" stroke-width="0.5"/>
<path d="M538.2 67L539.8 67" stroke="#000" stroke-width="0.5"/>
<rect x="537.3" y="70.7" width="3.4" height="16.9" fill="#9c9c9c" stroke="#000" stroke-width="0.65"/>
<path d="M482.2 42.9V41.4H498.4V42.9" fill="none" stroke="#333" stroke-width="0.55"/>
<text class="a m" x="490.3" y="41.15" font-size="2.6" fill="#555" stroke="#555" stroke-width="0.1">****</text>
<path d="M482.2 46.1V44.6H490.6V46.1" fill="none" stroke="#333" stroke-width="0.55"/>
<text class="a m" x="486.4" y="44.35" font-size="2.6" fill="#555" stroke="#555" stroke-width="0.1">****</text>
<path d="M490.6 46.1V44.6H507.4V46.1" fill="none" stroke="#333" stroke-width="0.55"/>
<text class="a m" x="499" y="44.35" font-size="2.6" fill="#555" stroke="#555" stroke-width="0.1">****</text>
<path d="M498.4 49.3V47.8H507.4V49.3" fill="none" stroke="#333" stroke-width="0.55"/>
<text class="a m" x="502.9" y="47.55" font-size="2.6" fill="#555" stroke="#555" stroke-width="0.1">****</text>
<path d="M523.6 46.9V45.4H538.6V46.9" fill="none" stroke="#333" stroke-width="0.55"/>
<text class="a m" x="531.1" y="45.15" font-size="2.6" fill="#555" stroke="#555" stroke-width="0.1">****</text>
<path d="M515.5 50.1V48.6H523.6V50.1" fill="none" stroke="#333" stroke-width="0.55"/>
<text class="a m" x="519.55" y="48.35" font-size="2.6" fill="#555" stroke="#555" stroke-width="0.1">****</text>
<path d="M523.6 50.1V48.6H532.6V50.1" fill="none" stroke="#333" stroke-width="0.55"/>
<text class="a m" x="528.1" y="48.35" font-size="2.6" fill="#555" stroke="#555" stroke-width="0.1">****</text>
<text class="a e" x="478" y="93.8" font-size="2.7" fill="#222" stroke="#222" stroke-width="0.18">MPA 30uM</text>
<text class="a e" x="478" y="98.7" font-size="2.7" fill="#222" stroke="#222" stroke-width="0.18">NOHAC 30uM</text>
<text class="a e" x="478" y="103.6" font-size="2.7" fill="#222" stroke="#222" stroke-width="0.18">T3 100nM</text>
<path d="M483.8 87.6v1.3M491.3 87.6v1.3M498.7 87.6v1.3M505.8 87.6v1.3M516.9 87.6v1.3M524.2 87.6v1.3M531.3 87.6v1.3M539 87.6v1.3" stroke="#000" stroke-width="0.5"/>
<text class="ab m" x="498.7 505.8" y="93.7" font-size="3.2" fill="#555" stroke="#555" stroke-width="0.1">++</text>
<text class="ab m" x="483.8 491.3 516.9 524.2 531.3 539" y="93.7" font-size="3.2" fill="#555" stroke="#555" stroke-width="0.1">––––––</text>
<text class="ab m" x="531.3 539" y="98.6" font-size="3.2" fill="#555" stroke="#555" stroke-width="0.1">++</text>
<text class="ab m" x="483.8 491.3 498.7 505.8 516.9 524.2" y="98.6" font-size="3.2" fill="#555" stroke="#555" stroke-width="0.1">––––––</text>
<text class="ab m" x="491.3 505.8 524.2 539" y="103.5" font-size="3.2" fill="#555" stroke="#555" stroke-width="0.1">++++</text>
<text class="ab m" x="483.8 498.7 516.9 531.3" y="103.5" font-size="3.2" fill="#555" stroke="#555" stroke-width="0.1">––––</text>
<text class="s" x="14.8" y="129.8" font-size="8.6">B</text>
<text class="sb m" x="85" y="125" font-size="5.3" stroke="#000" stroke-width="0.15">RL95-2 cells</text>
<path d="M48.6 127.6L119.4 127.6" stroke="#000" stroke-width="0.55"/>
<text class="sb m" x="57.2" y="132.4" font-size="4.4" stroke="#000" stroke-width="0.1">si-Ctrl.</text>
<text class="sb m" x="110.4" y="132.4" font-size="4.4" stroke="#000" stroke-width="0.1">si-THRB</text>
<rect x="36.2" y="134.2" width="97.1" height="72" fill="#f1f1f1"/>
<rect x="36.2" y="134.5" width="97.1" height="6" fill="#e7e7e7"/>
<rect x="36.2" y="141.5" width="97.1" height="6.5" fill="#e6e6e6"/>
<rect x="36.2" y="148.5" width="97.1" height="5.5" fill="#e7e7e7"/>
<rect x="36.2" y="157" width="97.1" height="8" fill="#e6e6e6"/>
<rect x="36.2" y="165" width="97.1" height="7" fill="#e7e7e7"/>
<rect x="36.2" y="172.5" width="97.1" height="8" fill="#e2e2e2"/>
<rect x="36.2" y="183" width="97.1" height="6.5" fill="#e8e8e8"/>
<rect x="36.2" y="191.5" width="97.1" height="6.5" fill="#e8e8e8"/>
<rect x="36.2" y="198.5" width="97.1" height="7" fill="#e2e2e2"/>
<rect x="37.5" y="200" width="94.5" height="4.6" fill="url(#gs)" opacity="0.18"/>
<rect x="37" y="134.85" width="8" height="5.5" rx="1.28" ry="2.48" fill="url(#gb)" opacity="0.65"/>
<rect x="45.3" y="134.85" width="8" height="5.5" rx="1.28" ry="2.48" fill="url(#gb)" opacity="0.5"/>
<rect x="53.6" y="134.85" width="8" height="5.5" rx="1.28" ry="2.48" fill="url(#gb)" opacity="0.95"/>
<rect x="61.5" y="134.85" width="8" height="5.5" rx="1.28" ry="2.48" fill="url(#gb)" opacity="1"/>
<rect x="69.6" y="134.85" width="8" height="5.5" rx="1.28" ry="2.48" fill="url(#gb)" opacity="0.7"/>
<rect x="77.2" y="134.85" width="8" height="5.5" rx="1.28" ry="2.48" fill="url(#gb)" opacity="0.8"/>
<rect x="85.5" y="134.85" width="8" height="5.5" rx="1.28" ry="2.48" fill="url(#gb)" opacity="0.3"/>
<rect x="93.3" y="134.85" width="8" height="5.5" rx="1.28" ry="2.48" fill="url(#gb)" opacity="0.2"/>
<rect x="101.4" y="134.85" width="8" height="5.5" rx="1.28" ry="2.48" fill="url(#gb)" opacity="0.9"/>
<rect x="109.5" y="134.85" width="8" height="5.5" rx="1.28" ry="2.48" fill="url(#gb)" opacity="0.9"/>
<rect x="117.4" y="134.85" width="8" height="5.5" rx="1.28" ry="2.48" fill="url(#gb)" opacity="0.15"/>
<rect x="125.2" y="134.85" width="8" height="5.5" rx="1.28" ry="2.48" fill="url(#gb)" opacity="0.15"/>
<rect x="37" y="142.05" width="8" height="5.9" rx="1.28" ry="2.66" fill="url(#gb)" opacity="0.5"/>
<rect x="45.3" y="142.05" width="8" height="5.9" rx="1.28" ry="2.66" fill="url(#gb)" opacity="0.45"/>
<rect x="53.6" y="142.05" width="8" height="5.9" rx="1.28" ry="2.66" fill="url(#gb)" opacity="0.75"/>
<rect x="61.5" y="142.05" width="8" height="5.9" rx="1.28" ry="2.66" fill="url(#gb)" opacity="0.9"/>
<rect x="69.6" y="142.05" width="8" height="5.9" rx="1.28" ry="2.66" fill="url(#gb)" opacity="0.8"/>
<rect x="77.2" y="142.05" width="8" height="5.9" rx="1.28" ry="2.66" fill="url(#gb)" opacity="0.8"/>
<rect x="85.5" y="142.05" width="8" height="5.9" rx="1.28" ry="2.66" fill="url(#gb)" opacity="1"/>
<rect x="93.3" y="142.05" width="8" height="5.9" rx="1.28" ry="2.66" fill="url(#gb)" opacity="1"/>
<rect x="101.4" y="142.05" width="8" height="5.9" rx="1.28" ry="2.66" fill="url(#gb)" opacity="0.8"/>
<rect x="109.5" y="142.05" width="8" height="5.9" rx="1.28" ry="2.66" fill="url(#gb)" opacity="0.85"/>
<rect x="117.4" y="142.05" width="8" height="5.9" rx="1.28" ry="2.66" fill="url(#gb)" opacity="0.9"/>
<rect x="125.2" y="142.05" width="8" height="5.9" rx="1.28" ry="2.66" fill="url(#gb)" opacity="0.95"/>
<rect x="37" y="148.35" width="8" height="5.5" rx="1.28" ry="2.48" fill="url(#gb)" opacity="0.75"/>
<rect x="45.3" y="148.35" width="8" height="5.5" rx="1.28" ry="2.48" fill="url(#gb)" opacity="0.75"/>
<rect x="53.6" y="148.35" width="8" height="5.5" rx="1.28" ry="2.48" fill="url(#gb)" opacity="0.7"/>
<rect x="61.5" y="148.35" width="8" height="5.5" rx="1.28" ry="2.48" fill="url(#gb)" opacity="0.75"/>
<rect x="69.6" y="148.35" width="8" height="5.5" rx="1.28" ry="2.48" fill="url(#gb)" opacity="0.6"/>
<rect x="77.2" y="148.35" width="8" height="5.5" rx="1.28" ry="2.48" fill="url(#gb)" opacity="0.85"/>
<rect x="85.5" y="148.35" width="8" height="5.5" rx="1.28" ry="2.48" fill="url(#gb)" opacity="0.85"/>
<rect x="93.3" y="148.35" width="8" height="5.5" rx="1.28" ry="2.48" fill="url(#gb)" opacity="0.85"/>
<rect x="101.4" y="148.35" width="8" height="5.5" rx="1.28" ry="2.48" fill="url(#gb)" opacity="0.9"/>
<rect x="109.5" y="148.35" width="8" height="5.5" rx="1.28" ry="2.48" fill="url(#gb)" opacity="0.85"/>
<rect x="117.4" y="148.35" width="8" height="5.5" rx="1.28" ry="2.48" fill="url(#gb)" opacity="0.8"/>
<rect x="125.2" y="148.35" width="8" height="5.5" rx="1.28" ry="2.48" fill="url(#gb)" opacity="0.85"/>
<rect x="37" y="157.55" width="8" height="7.1" rx="1.28" ry="3.19" fill="url(#gb)" opacity="1"/>
<rect x="45.3" y="157.55" width="8" height="7.1" rx="1.28" ry="3.19" fill="url(#gb)" opacity="1"/>
<rect x="53.6" y="157.55" width="8" height="7.1" rx="1.28" ry="3.19" fill="url(#gb)" opacity="1"/>
<rect x="61.5" y="157.55" width="8" height="7.1" rx="1.28" ry="3.19" fill="url(#gb)" opacity="1"/>
<rect x="69.6" y="157.55" width="8" height="7.1" rx="1.28" ry="3.19" fill="url(#gb)" opacity="1"/>
<rect x="77.2" y="157.55" width="8" height="7.1" rx="1.28" ry="3.19" fill="url(#gb)" opacity="1"/>
<rect x="85.5" y="157.55" width="8" height="7.1" rx="1.28" ry="3.19" fill="url(#gb)" opacity="1"/>
<rect x="93.3" y="157.55" width="8" height="7.1" rx="1.28" ry="3.19" fill="url(#gb)" opacity="1"/>
<rect x="101.4" y="157.55" width="8" height="7.1" rx="1.28" ry="3.19" fill="url(#gb)" opacity="1"/>
<rect x="109.5" y="157.55" width="8" height="7.1" rx="1.28" ry="3.19" fill="url(#gb)" opacity="1"/>
<rect x="117.4" y="157.55" width="8" height="7.1" rx="1.28" ry="3.19" fill="url(#gb)" opacity="1"/>
<rect x="125.2" y="157.55" width="8" height="7.1" rx="1.28" ry="3.19" fill="url(#gb)" opacity="1"/>
<rect x="37" y="165.55" width="8" height="5.9" rx="1.28" ry="2.66" fill="url(#gb)" opacity="0.45"/>
<rect x="45.3" y="165.55" width="8" height="5.9" rx="1.28" ry="2.66" fill="url(#gb)" opacity="0.55"/>
<rect x="53.6" y="165.55" width="8" height="5.9" rx="1.28" ry="2.66" fill="url(#gb)" opacity="0.65"/>
<rect x="61.5" y="165.55" width="8" height="5.9" rx="1.28" ry="2.66" fill="url(#gb)" opacity="0.7"/>
<rect x="69.6" y="165.55" width="8" height="5.9" rx="1.28" ry="2.66" fill="url(#gb)" opacity="0.85"/>
<rect x="77.2" y="165.55" width="8" height="5.9" rx="1.28" ry="2.66" fill="url(#gb)" opacity="0.85"/>
<rect x="85.5" y="165.55" width="8" height="5.9" rx="1.28" ry="2.66" fill="url(#gb)" opacity="0.95"/>
<rect x="93.3" y="165.55" width="8" height="5.9" rx="1.28" ry="2.66" fill="url(#gb)" opacity="0.95"/>
<rect x="101.4" y="165.55" width="8" height="5.9" rx="1.28" ry="2.66" fill="url(#gb)" opacity="0.9"/>
<rect x="109.5" y="165.55" width="8" height="5.9" rx="1.28" ry="2.66" fill="url(#gb)" opacity="0.95"/>
<rect x="117.4" y="165.55" width="8" height="5.9" rx="1.28" ry="2.66" fill="url(#gb)" opacity="0.95"/>
<rect x="125.2" y="165.55" width="8" height="5.9" rx="1.28" ry="2.66" fill="url(#gb)" opacity="0.95"/>
<rect x="37" y="172.75" width="8" height="7.5" rx="1.28" ry="3.38" fill="url(#gb)" opacity="0.8"/>
<rect x="45.3" y="172.75" width="8" height="7.5" rx="1.28" ry="3.38" fill="url(#gb)" opacity="0.9"/>
<rect x="53.6" y="172.75" width="8" height="7.5" rx="1.28" ry="3.38" fill="url(#gb)" opacity="0.95"/>
<rect x="61.5" y="172.75" width="8" height="7.5" rx="1.28" ry="3.38" fill="url(#gb)" opacity="1"/>
<rect x="69.6" y="172.75" width="8" height="7.5" rx="1.28" ry="3.38" fill="url(#gb)" opacity="0.95"/>
<rect x="77.2" y="172.75" width="8" height="7.5" rx="1.28" ry="3.38" fill="url(#gb)" opacity="0.95"/>
<rect x="85.5" y="172.75" width="8" height="7.5" rx="1.28" ry="3.38" fill="url(#gb)" opacity="1"/>
<rect x="93.3" y="172.75" width="8" height="7.5" rx="1.28" ry="3.38" fill="url(#gb)" opacity="0.95"/>
<rect x="101.4" y="172.75" width="8" height="7.5" rx="1.28" ry="3.38" fill="url(#gb)" opacity="0.85"/>
<rect x="109.5" y="172.75" width="8" height="7.5" rx="1.28" ry="3.38" fill="url(#gb)" opacity="0.9"/>
<rect x="117.4" y="172.75" width="8" height="7.5" rx="1.28" ry="3.38" fill="url(#gb)" opacity="0.85"/>
<rect x="125.2" y="172.75" width="8" height="7.5" rx="1.28" ry="3.38" fill="url(#gb)" opacity="0.85"/>
<rect x="37" y="183.65" width="8" height="5.5" rx="1.28" ry="2.48" fill="url(#gb)" opacity="0.3"/>
<rect x="45.3" y="183.65" width="8" height="5.5" rx="1.28" ry="2.48" fill="url(#gb)" opacity="0.3"/>
<rect x="53.6" y="183.65" width="8" height="5.5" rx="1.28" ry="2.48" fill="url(#gb)" opacity="0.4"/>
<rect x="61.5" y="183.65" width="8" height="5.5" rx="1.28" ry="2.48" fill="url(#gb)" opacity="0.55"/>
<rect x="69.6" y="183.65" width="8" height="5.5" rx="1.28" ry="2.48" fill="url(#gb)" opacity="0.55"/>
<rect x="77.2" y="183.65" width="8" height="5.5" rx="1.28" ry="2.48" fill="url(#gb)" opacity="0.5"/>
<rect x="85.5" y="183.65" width="8" height="5.5" rx="1.28" ry="2.48" fill="url(#gb)" opacity="0.9"/>
<rect x="93.3" y="183.65" width="8" height="5.5" rx="1.28" ry="2.48" fill="url(#gb)" opacity="0.9"/>
<rect x="101.4" y="183.65" width="8" height="5.5" rx="1.28" ry="2.48" fill="url(#gb)" opacity="0.9"/>
<rect x="109.5" y="183.65" width="8" height="5.5" rx="1.28" ry="2.48" fill="url(#gb)" opacity="0.9"/>
<rect x="117.4" y="183.65" width="8" height="5.5" rx="1.28" ry="2.48" fill="url(#gb)" opacity="0.9"/>
<rect x="125.2" y="183.65" width="8" height="5.5" rx="1.28" ry="2.48" fill="url(#gb)" opacity="0.9"/>
<rect x="37" y="191.95" width="8" height="5.5" rx="1.28" ry="2.48" fill="url(#gb)" opacity="0.85"/>
<rect x="45.3" y="191.95" width="8" height="5.5" rx="1.28" ry="2.48" fill="url(#gb)" opacity="0.85"/>
<rect x="53.6" y="191.95" width="8" height="5.5" rx="1.28" ry="2.48" fill="url(#gb)" opacity="0.85"/>
<rect x="61.5" y="191.95" width="8" height="5.5" rx="1.28" ry="2.48" fill="url(#gb)" opacity="0.85"/>
<rect x="69.6" y="191.95" width="8" height="5.5" rx="1.28" ry="2.48" fill="url(#gb)" opacity="0.85"/>
<rect x="77.2" y="191.95" width="8" height="5.5" rx="1.28" ry="2.48" fill="url(#gb)" opacity="0.85"/>
<rect x="85.5" y="191.95" width="8" height="5.5" rx="1.28" ry="2.48" fill="url(#gb)" opacity="0.85"/>
<rect x="93.3" y="191.95" width="8" height="5.5" rx="1.28" ry="2.48" fill="url(#gb)" opacity="0.85"/>
<rect x="101.4" y="191.95" width="8" height="5.5" rx="1.28" ry="2.48" fill="url(#gb)" opacity="0.85"/>
<rect x="109.5" y="191.95" width="8" height="5.5" rx="1.28" ry="2.48" fill="url(#gb)" opacity="0.85"/>
<rect x="117.4" y="191.95" width="8" height="5.5" rx="1.28" ry="2.48" fill="url(#gb)" opacity="0.85"/>
<rect x="125.2" y="191.95" width="8" height="5.5" rx="1.28" ry="2.48" fill="url(#gb)" opacity="0.85"/>
<rect x="37" y="199.05" width="8" height="6.1" rx="1.28" ry="2.75" fill="url(#gb)" opacity="0.25"/>
<rect x="45.3" y="199.05" width="8" height="6.1" rx="1.28" ry="2.75" fill="url(#gb)" opacity="0.25"/>
<rect x="53.6" y="199.05" width="8" height="6.1" rx="1.28" ry="2.75" fill="url(#gb)" opacity="0.25"/>
<rect x="61.5" y="199.05" width="8" height="6.1" rx="1.28" ry="2.75" fill="url(#gb)" opacity="0.25"/>
<rect x="69.6" y="199.05" width="8" height="6.1" rx="1.28" ry="2.75" fill="url(#gb)" opacity="0.25"/>
<rect x="77.2" y="199.05" width="8" height="6.1" rx="1.28" ry="2.75" fill="url(#gb)" opacity="0.25"/>
<rect x="85.5" y="199.05" width="8" height="6.1" rx="1.28" ry="2.75" fill="url(#gb)" opacity="0.25"/>
<rect x="93.3" y="199.05" width="8" height="6.1" rx="1.28" ry="2.75" fill="url(#gb)" opacity="0.25"/>
<rect x="101.4" y="199.05" width="8" height="6.1" rx="1.28" ry="2.75" fill="url(#gb)" opacity="0.25"/>
<rect x="109.5" y="199.05" width="8" height="6.1" rx="1.28" ry="2.75" fill="url(#gb)" opacity="0.25"/>
<rect x="117.4" y="199.05" width="8" height="6.1" rx="1.28" ry="2.75" fill="url(#gb)" opacity="0.25"/>
<rect x="125.2" y="199.05" width="8" height="6.1" rx="1.28" ry="2.75" fill="url(#gb)" opacity="0.25"/>
<path d="M85 134.2L85 206.2" stroke="#555" stroke-width="0.6"/>
<rect x="36.20" y="134.20" width="97.10" height="72.00" fill="none" stroke="#666" stroke-width="0.6"/>
<text class="sb e" x="33.4" y="139.2" font-size="3.4" stroke="#000" stroke-width="0.1">p-Akt</text>
<text class="sb e" x="33.4" y="147.2" font-size="3.4" stroke="#000" stroke-width="0.1">Akt</text>
<text class="sb e" x="33.4" y="154.2" font-size="3.4" stroke="#000" stroke-width="0.1">p-mTOR</text>
<text class="sb e" x="33.4" y="162.2" font-size="3.4" stroke="#000" stroke-width="0.1">mTOR</text>
<text class="sb e" x="33.4" y="170.2" font-size="3.4" stroke="#000" stroke-width="0.1">p-4EBP1</text>
<text class="sb e" x="33.4" y="178.2" font-size="3.4" stroke="#000" stroke-width="0.1">4EBP1</text>
<text class="sb e" x="33.4" y="187.2" font-size="3.4" stroke="#000" stroke-width="0.1">p-eIF4G</text>
<text class="sb e" x="33.4" y="195.2" font-size="3.4" stroke="#000" stroke-width="0.1">eIF4G</text>
<text class="sb e" x="33.4" y="203.7" font-size="3.4" stroke="#000" stroke-width="0.1">GAPDH</text>
<text class="sb e" x="35.5" y="210.6" font-size="3.2" stroke="#000" stroke-width="0.13">30uM MPA</text>
<text class="sb e" x="35.5" y="214.5" font-size="3.2" stroke="#000" stroke-width="0.13">30uM NOHAC</text>
<text class="sb e" x="35.5" y="218.5" font-size="3.2" stroke="#000" stroke-width="0.13">100nM T3</text>
<text class="ab m" x="57.3 65.2 105 113.5" y="210.7" font-size="3.4" fill="#222" stroke="#222" stroke-width="0.12">++++</text>
<text class="ab m" x="41 49.5 74 82.1 89.1 97.1 122.5 130.8" y="210.7" font-size="3.4" fill="#222" stroke="#222" stroke-width="0.12">––––––––</text>
<text class="ab m" x="74 82.1 122.5 130.8" y="214.6" font-size="3.4" fill="#222" stroke="#222" stroke-width="0.12">++++</text>
<text class="ab m" x="41 49.5 57.3 65.2 89.1 97.1 105 113.5" y="214.6" font-size="3.4" fill="#222" stroke="#222" stroke-width="0.12">––––––––</text>
<text class="ab m" x="49.5 65.2 82.1 97.1 113.5 130.8" y="218.6" font-size="3.4" fill="#222" stroke="#222" stroke-width="0.12">++++++</text>
<text class="ab m" x="41 57.3 74 89.1 105 122.5" y="218.6" font-size="3.4" fill="#222" stroke="#222" stroke-width="0.12">––––––</text>
<text class="sb m" x="354.3" y="140.2" font-size="5.3" stroke="#000" stroke-width="0.15">RL95-2 cells</text>
<text class="s" x="159.6" y="158.1" font-size="6.2">B-1</text>
<rect x="174.2" y="161" width="1.4" height="42.2" fill="#d4d4d4"/>
<path d="M173.9 161L173.9 203.2" stroke="#000" stroke-width="0.7"/>
<path d="M173.9 203.2L235 203.2" stroke="#000" stroke-width="0.7"/>
<path d="M172.3 203.2L173.9 203.2" stroke="#000" stroke-width="0.5"/>
<text class="a e" x="172" y="204.25" font-size="3.0" fill="#222" stroke="#222" stroke-width="0.14">0</text>
<path d="M172.3 192.65L173.9 192.65" stroke="#000" stroke-width="0.5"/>
<text class="a e" x="172" y="193.7" font-size="3.0" fill="#222" stroke="#222" stroke-width="0.14">1</text>
<path d="M172.3 182.1L173.9 182.1" stroke="#000" stroke-width="0.5"/>
<text class="a e" x="172" y="183.15" font-size="3.0" fill="#222" stroke="#222" stroke-width="0.14">2</text>
<path d="M172.3 171.55L173.9 171.55" stroke="#000" stroke-width="0.5"/>
<text class="a e" x="172" y="172.6" font-size="3.0" fill="#222" stroke="#222" stroke-width="0.14">3</text>
<path d="M172.3 161L173.9 161" stroke="#000" stroke-width="0.5"/>
<text class="a e" x="172" y="162.05" font-size="3.0" fill="#222" stroke="#222" stroke-width="0.14">4</text>
<text class="ab m" x="167.2" y="180.8" font-size="3.5" stroke="#000" stroke-width="0.16" transform="rotate(-90 167.2 180.8)">p-Akt/Akt</text>
<path d="M176.9 192L176.9 193" stroke="#000" stroke-width="0.5"/>
<path d="M176.1 192L177.7 192" stroke="#000" stroke-width="0.5"/>
<rect x="175.9" y="193.3" width="2" height="9.9" fill="#000" stroke="#000" stroke-width="0.65"/>
<path d="M180.6 199.3L180.6 200" stroke="#000" stroke-width="0.5"/>
<path d="M179.8 199.3L181.4 199.3" stroke="#000" stroke-width="0.5"/>
<rect x="179.6" y="200.3" width="2" height="2.9" fill="#fff" stroke="#000" stroke-width="0.65"/>
<path d="M187.25 190.5L187.25 191.2" stroke="#000" stroke-width="0.5"/>
<path d="M186.45 190.5L188.05 190.5" stroke="#000" stroke-width="0.5"/>
<rect x="186.3" y="191.5" width="1.9" height="11.7" fill="#000" stroke="#000" stroke-width="0.65"/>
<path d="M190.95 201L190.95 201.6" stroke="#000" stroke-width="0.5"/>
<path d="M190.15 201L191.75 201" stroke="#000" stroke-width="0.5"/>
<rect x="190" y="201.9" width="1.9" height="1.3" fill="#fff" stroke="#000" stroke-width="0.65"/>
<path d="M197.6 168L197.6 176.6" stroke="#000" stroke-width="0.5"/>
<path d="M196.8 168L198.4 168" stroke="#000" stroke-width="0.5"/>
<rect x="196.5" y="176.9" width="2.2" height="26.3" fill="#000" stroke="#000" stroke-width="0.65"/>
<path d="M201.5 188L201.5 191.2" stroke="#000" stroke-width="0.5"/>
<path d="M200.7 188L202.3 188" stroke="#000" stroke-width="0.5"/>
<rect x="200.3" y="191.5" width="2.4" height="11.7" fill="#fff" stroke="#000" stroke-width="0.65"/>
<path d="M208.2 165L208.2 176.6" stroke="#000" stroke-width="0.5"/>
<path d="M207.4 165L209 165" stroke="#000" stroke-width="0.5"/>
<rect x="206.9" y="176.9" width="2.6" height="26.3" fill="#000" stroke="#000" stroke-width="0.65"/>
<path d="M212.1 191.5L212.1 193.6" stroke="#000" stroke-width="0.5"/>
<path d="M211.3 191.5L212.9 191.5" stroke="#000" stroke-width="0.5"/>
<rect x="211.1" y="193.9" width="2" height="9.3" fill="#fff" stroke="#000" stroke-width="0.65"/>
<path d="M218.75 194L218.75 195.5" stroke="#000" stroke-width="0.5"/>
<path d="M217.95 194L219.55 194" stroke="#000" stroke-width="0.5"/>
<rect x="217.8" y="195.8" width="1.9" height="7.4" fill="#000" stroke="#000" stroke-width="0.65"/>
<path d="M222.4 199L222.4 199.6" stroke="#000" stroke-width="0.5"/>
<path d="M221.6 199L223.2 199" stroke="#000" stroke-width="0.5"/>
<rect x="221.3" y="199.9" width="2.2" height="3.3" fill="#fff" stroke="#000" stroke-width="0.65"/>
<path d="M229.7 191.5L229.7 192" stroke="#000" stroke-width="0.5"/>
<path d="M228.9 191.5L230.5 191.5" stroke="#000" stroke-width="0.5"/>
<rect x="228.7" y="192.3" width="2" height="10.9" fill="#000" stroke="#000" stroke-width="0.65"/>
<path d="M233.25 200.5L233.25 200.9" stroke="#000" stroke-width="0.5"/>
<path d="M232.45 200.5L234.05 200.5" stroke="#000" stroke-width="0.5"/>
<rect x="232.3" y="201.2" width="1.9" height="2" fill="#fff" stroke="#000" stroke-width="0.65"/>
<path d="M174.9 189.9V188.4H182.2V189.9" fill="none" stroke="#333" stroke-width="0.55"/>
<text class="a m" x="178.55" y="188.15" font-size="2.6" fill="#555" stroke="#555" stroke-width="0.1">****</text>
<path d="M185.3 188.1V186.6H192.5V188.1" fill="none" stroke="#333" stroke-width="0.55"/>
<text class="a m" x="188.9" y="186.35" font-size="2.6" fill="#555" stroke="#555" stroke-width="0.1">****</text>
<path d="M216.8 189.9V188.4H224.1V189.9" fill="none" stroke="#333" stroke-width="0.55"/>
<text class="a m" x="220.45" y="188.15" font-size="2.6" fill="#555" stroke="#555" stroke-width="0.1">****</text>
<text class="a e" x="174.1" y="208.8" font-size="3.25" fill="#222" stroke="#222" stroke-width="0.18">MPA 30uM</text>
<text class="a e" x="174.1" y="214.3" font-size="3.25" fill="#222" stroke="#222" stroke-width="0.18">NOHAC 30uM</text>
<text class="a e" x="174.1" y="219.7" font-size="3.25" fill="#222" stroke="#222" stroke-width="0.18">T3 100nM</text>
<path d="M179 203.2v1.3M190 203.2v1.3M199.6 203.2v1.3M210 203.2v1.3M221 203.2v1.3M231 203.2v1.3" stroke="#000" stroke-width="0.5"/>
<text class="ab m" x="199.6 210" y="208.7" font-size="3.2" fill="#555" stroke="#555" stroke-width="0.1">++</text>
<text class="ab m" x="179 190 221 231" y="208.7" font-size="3.2" fill="#555" stroke="#555" stroke-width="0.1">––––</text>
<text class="ab m" x="221 231" y="214.2" font-size="3.2" fill="#555" stroke="#555" stroke-width="0.1">++</text>
<text class="ab m" x="179 190 199.6 210" y="214.2" font-size="3.2" fill="#555" stroke="#555" stroke-width="0.1">––––</text>
<text class="ab m" x="190 210 231" y="219.6" font-size="3.2" fill="#555" stroke="#555" stroke-width="0.1">+++</text>
<text class="ab m" x="179 199.6 221" y="219.6" font-size="3.2" fill="#555" stroke="#555" stroke-width="0.1">–––</text>
<rect x="234.9" y="166.1" width="4.1" height="2.4" fill="#000"/>
<text class="a" x="241.3" y="168.5" font-size="3.4" fill="#333" stroke="#333" stroke-width="0.1">si-Ctrl</text>
<rect x="235.15" y="171.6" width="3.8" height="2.3" fill="#9a9a9a" stroke="#222" stroke-width="0.5"/>
<text class="a" x="241.3" y="174" font-size="3.4" fill="#333" stroke="#333" stroke-width="0.1">si-THRB</text>
<text class="s" x="259" y="158.1" font-size="6.2">B-2</text>
<rect x="276.5" y="163.5" width="1.4" height="38.9" fill="#d4d4d4"/>
<path d="M276.2 163.5L276.2 202.4" stroke="#000" stroke-width="0.7"/>
<path d="M276.2 202.4L337 202.4" stroke="#000" stroke-width="0.7"/>
<path d="M274.6 202.4L276.2 202.4" stroke="#000" stroke-width="0.5"/>
<text class="a e" x="274.3" y="203.45" font-size="3.0" fill="#222" stroke="#222" stroke-width="0.14">0</text>
<path d="M274.6 192.68L276.2 192.68" stroke="#000" stroke-width="0.5"/>
<text class="a e" x="274.3" y="193.73" font-size="3.0" fill="#222" stroke="#222" stroke-width="0.14">1</text>
<path d="M274.6 182.95L276.2 182.95" stroke="#000" stroke-width="0.5"/>
<text class="a e" x="274.3" y="184" font-size="3.0" fill="#222" stroke="#222" stroke-width="0.14">2</text>
<path d="M274.6 173.22L276.2 173.22" stroke="#000" stroke-width="0.5"/>
<text class="a e" x="274.3" y="174.28" font-size="3.0" fill="#222" stroke="#222" stroke-width="0.14">3</text>
<path d="M274.6 163.5L276.2 163.5" stroke="#000" stroke-width="0.5"/>
<text class="a e" x="274.3" y="164.55" font-size="3.0" fill="#222" stroke="#222" stroke-width="0.14">4</text>
<text class="ab m" x="269.1" y="182.95" font-size="3.5" stroke="#000" stroke-width="0.16" transform="rotate(-90 269.1 182.95)">p-mTOR/mTOR</text>
<path d="M279.7 192.5L279.7 193" stroke="#000" stroke-width="0.5"/>
<path d="M278.9 192.5L280.5 192.5" stroke="#000" stroke-width="0.5"/>
<rect x="278.7" y="193.3" width="2" height="9.1" fill="#000" stroke="#000" stroke-width="0.65"/>
<path d="M283.5 185.5L283.5 186.6" stroke="#000" stroke-width="0.5"/>
<path d="M282.7 185.5L284.3 185.5" stroke="#000" stroke-width="0.5"/>
<rect x="282.3" y="186.9" width="2.4" height="15.5" fill="#fff" stroke="#000" stroke-width="0.65"/>
<path d="M290.3 190L290.3 191" stroke="#000" stroke-width="0.5"/>
<path d="M289.5 190L291.1 190" stroke="#000" stroke-width="0.5"/>
<rect x="289.3" y="191.3" width="2" height="11.1" fill="#000" stroke="#000" stroke-width="0.65"/>
<path d="M293.5 180.5L293.5 181.4" stroke="#000" stroke-width="0.5"/>
<path d="M292.7 180.5L294.3 180.5" stroke="#000" stroke-width="0.5"/>
<rect x="292.3" y="181.7" width="2.4" height="20.7" fill="#fff" stroke="#000" stroke-width="0.65"/>
<path d="M300.3 189L300.3 190" stroke="#000" stroke-width="0.5"/>
<path d="M299.5 189L301.1 189" stroke="#000" stroke-width="0.5"/>
<rect x="299.3" y="190.3" width="2" height="12.1" fill="#000" stroke="#000" stroke-width="0.65"/>
<path d="M304 173L304 174" stroke="#000" stroke-width="0.5"/>
<path d="M303.2 173L304.8 173" stroke="#000" stroke-width="0.5"/>
<rect x="302.7" y="174.3" width="2.6" height="28.1" fill="#fff" stroke="#000" stroke-width="0.65"/>
<path d="M310.5 186.5L310.5 188.6" stroke="#000" stroke-width="0.5"/>
<path d="M309.7 186.5L311.3 186.5" stroke="#000" stroke-width="0.5"/>
<rect x="309.3" y="188.9" width="2.4" height="13.5" fill="#000" stroke="#000" stroke-width="0.65"/>
<path d="M314.5 183.5L314.5 184" stroke="#000" stroke-width="0.5"/>
<path d="M313.7 183.5L315.3 183.5" stroke="#000" stroke-width="0.5"/>
<rect x="313.3" y="184.3" width="2.4" height="18.1" fill="#fff" stroke="#000" stroke-width="0.65"/>
<path d="M320.8 188.5L320.8 189.4" stroke="#000" stroke-width="0.5"/>
<path d="M320 188.5L321.6 188.5" stroke="#000" stroke-width="0.5"/>
<rect x="319.9" y="189.7" width="1.8" height="12.7" fill="#000" stroke="#000" stroke-width="0.65"/>
<path d="M324.5 178.5L324.5 179.4" stroke="#000" stroke-width="0.5"/>
<path d="M323.7 178.5L325.3 178.5" stroke="#000" stroke-width="0.5"/>
<rect x="323.3" y="179.7" width="2.4" height="22.7" fill="#fff" stroke="#000" stroke-width="0.65"/>
<path d="M331.2 182.5L331.2 186.6" stroke="#000" stroke-width="0.5"/>
<path d="M330.4 182.5L332 182.5" stroke="#000" stroke-width="0.5"/>
<rect x="330.3" y="186.9" width="1.8" height="15.5" fill="#000" stroke="#000" stroke-width="0.65"/>
<path d="M335 182L335 184.6" stroke="#000" stroke-width="0.5"/>
<path d="M334.2 182L335.8 182" stroke="#000" stroke-width="0.5"/>
<rect x="333.9" y="184.9" width="2.2" height="17.5" fill="#fff" stroke="#000" stroke-width="0.65"/>
<path d="M277.7 185.3V183.8H285.3V185.3" fill="none" stroke="#333" stroke-width="0.55"/>
<text class="a m" x="281.5" y="183.55" font-size="2.6" fill="#555" stroke="#555" stroke-width="0.1">****</text>
<path d="M288.3 178.5V177H295.3V178.5" fill="none" stroke="#333" stroke-width="0.55"/>
<text class="a m" x="291.8" y="176.75" font-size="2.6" fill="#555" stroke="#555" stroke-width="0.1">****</text>
<path d="M298.3 170.5V169H305.9V170.5" fill="none" stroke="#333" stroke-width="0.55"/>
<text class="a m" x="302.1" y="168.75" font-size="2.6" fill="#555" stroke="#555" stroke-width="0.1">****</text>
<path d="M318.9 176.1V174.6H326.3V176.1" fill="none" stroke="#333" stroke-width="0.55"/>
<text class="a m" x="322.6" y="174.35" font-size="2.6" fill="#555" stroke="#555" stroke-width="0.1">****</text>
<text class="a e" x="277.7" y="207.6" font-size="3.3" fill="#222" stroke="#222" stroke-width="0.18">MPA 30uM</text>
<text class="a e" x="277.7" y="213.4" font-size="3.3" fill="#222" stroke="#222" stroke-width="0.18">NOHAC 30uM</text>
<text class="a e" x="277.7" y="218.6" font-size="3.3" fill="#222" stroke="#222" stroke-width="0.18">T3 100nM</text>
<path d="M281.7 202.4v1.3M292 202.4v1.3M302.3 202.4v1.3M312.5 202.4v1.3M322.8 202.4v1.3M333.2 202.4v1.3" stroke="#000" stroke-width="0.5"/>
<text class="ab m" x="302.3 312.5" y="207.5" font-size="3.2" fill="#555" stroke="#555" stroke-width="0.1">++</text>
<text class="ab m" x="281.7 292 322.8 333.2" y="207.5" font-size="3.2" fill="#555" stroke="#555" stroke-width="0.1">––––</text>
<text class="ab m" x="322.8 333.2" y="213.3" font-size="3.2" fill="#555" stroke="#555" stroke-width="0.1">++</text>
<text class="ab m" x="281.7 292 302.3 312.5" y="213.3" font-size="3.2" fill="#555" stroke="#555" stroke-width="0.1">––––</text>
<text class="ab m" x="292 312.5 333.2" y="218.5" font-size="3.2" fill="#555" stroke="#555" stroke-width="0.1">+++</text>
<text class="ab m" x="281.7 302.3 322.8" y="218.5" font-size="3.2" fill="#555" stroke="#555" stroke-width="0.1">–––</text>
<text class="s" x="358" y="158.1" font-size="6.2">B-3</text>
<rect x="375.5" y="164.5" width="1.4" height="37.9" fill="#d4d4d4"/>
<path d="M375.2 164.5L375.2 202.4" stroke="#000" stroke-width="0.7"/>
<path d="M375.2 202.4L435 202.4" stroke="#000" stroke-width="0.7"/>
<path d="M373.6 202.4L375.2 202.4" stroke="#000" stroke-width="0.5"/>
<text class="a e" x="373.3" y="203.45" font-size="3.0" fill="#222" stroke="#222" stroke-width="0.14">0.0</text>
<path d="M373.6 194.82L375.2 194.82" stroke="#000" stroke-width="0.5"/>
<text class="a e" x="373.3" y="195.87" font-size="3.0" fill="#222" stroke="#222" stroke-width="0.14">0.5</text>
<path d="M373.6 187.24L375.2 187.24" stroke="#000" stroke-width="0.5"/>
<text class="a e" x="373.3" y="188.29" font-size="3.0" fill="#222" stroke="#222" stroke-width="0.14">1.0</text>
<path d="M373.6 179.66L375.2 179.66" stroke="#000" stroke-width="0.5"/>
<text class="a e" x="373.3" y="180.71" font-size="3.0" fill="#222" stroke="#222" stroke-width="0.14">1.5</text>
<path d="M373.6 172.08L375.2 172.08" stroke="#000" stroke-width="0.5"/>
<text class="a e" x="373.3" y="173.13" font-size="3.0" fill="#222" stroke="#222" stroke-width="0.14">2.0</text>
<path d="M373.6 164.5L375.2 164.5" stroke="#000" stroke-width="0.5"/>
<text class="a e" x="373.3" y="165.55" font-size="3.0" fill="#222" stroke="#222" stroke-width="0.14">2.5</text>
<text class="ab m" x="364.8" y="183.45" font-size="3.5" stroke="#000" stroke-width="0.16" transform="rotate(-90 364.8 183.45)">p-4EBP1/4EBP1</text>
<rect x="376.9" y="187.7" width="1.8" height="14.7" fill="#000" stroke="#000" stroke-width="0.65"/>
<path d="M381.3 174.5L381.3 176" stroke="#000" stroke-width="0.5"/>
<path d="M380.5 174.5L382.1 174.5" stroke="#000" stroke-width="0.5"/>
<rect x="380.3" y="176.3" width="2" height="26.1" fill="#fff" stroke="#000" stroke-width="0.65"/>
<rect x="386.9" y="186.9" width="1.8" height="15.5" fill="#000" stroke="#000" stroke-width="0.65"/>
<path d="M391.5 171.5L391.5 173" stroke="#000" stroke-width="0.5"/>
<path d="M390.7 171.5L392.3 171.5" stroke="#000" stroke-width="0.5"/>
<rect x="390.3" y="173.3" width="2.4" height="29.1" fill="#fff" stroke="#000" stroke-width="0.65"/>
<path d="M398.3 180.5L398.3 182" stroke="#000" stroke-width="0.5"/>
<path d="M397.5 180.5L399.1 180.5" stroke="#000" stroke-width="0.5"/>
<rect x="397.3" y="182.3" width="2" height="20.1" fill="#000" stroke="#000" stroke-width="0.65"/>
<path d="M401.9 175L401.9 176.6" stroke="#000" stroke-width="0.5"/>
<path d="M401.1 175L402.7 175" stroke="#000" stroke-width="0.5"/>
<rect x="400.7" y="176.9" width="2.4" height="25.5" fill="#fff" stroke="#000" stroke-width="0.65"/>
<rect x="407.3" y="186.3" width="2" height="16.1" fill="#000" stroke="#000" stroke-width="0.65"/>
<path d="M412.1 180L412.1 181.4" stroke="#000" stroke-width="0.5"/>
<path d="M411.3 180L412.9 180" stroke="#000" stroke-width="0.5"/>
<rect x="410.9" y="181.7" width="2.4" height="20.7" fill="#fff" stroke="#000" stroke-width="0.65"/>
<rect x="417.7" y="186.3" width="2" height="16.1" fill="#000" stroke="#000" stroke-width="0.65"/>
<path d="M422.5 173.5L422.5 175.4" stroke="#000" stroke-width="0.5"/>
<path d="M421.7 173.5L423.3 173.5" stroke="#000" stroke-width="0.5"/>
<rect x="421.3" y="175.7" width="2.4" height="26.7" fill="#fff" stroke="#000" stroke-width="0.65"/>
<rect x="427.7" y="183.7" width="2" height="18.7" fill="#000" stroke="#000" stroke-width="0.65"/>
<path d="M432.5 181.5L432.5 183.4" stroke="#000" stroke-width="0.5"/>
<path d="M431.7 181.5L433.3 181.5" stroke="#000" stroke-width="0.5"/>
<rect x="431.3" y="183.7" width="2.4" height="18.7" fill="#fff" stroke="#000" stroke-width="0.65"/>
<path d="M375.9 171.8V170.3H382.9V171.8" fill="none" stroke="#333" stroke-width="0.55"/>
<text class="a m" x="379.4" y="170.05" font-size="2.6" fill="#555" stroke="#555" stroke-width="0.1">****</text>
<path d="M385.9 167.9V166.4H393.3V167.9" fill="none" stroke="#333" stroke-width="0.55"/>
<text class="a m" x="389.6" y="166.15" font-size="2.6" fill="#555" stroke="#555" stroke-width="0.1">****</text>
<path d="M396.3 171.5V170H403.7V171.5" fill="none" stroke="#333" stroke-width="0.55"/>
<text class="a m" x="400" y="169.75" font-size="2.6" fill="#555" stroke="#555" stroke-width="0.1">****</text>
<path d="M406.3 178.1V176.6H413.9V178.1" fill="none" stroke="#333" stroke-width="0.55"/>
<text class="a m" x="410.1" y="176.35" font-size="2.6" fill="#555" stroke="#555" stroke-width="0.1">****</text>
<path d="M416.7 170.1V168.6H424.3V170.1" fill="none" stroke="#333" stroke-width="0.55"/>
<text class="a m" x="420.5" y="168.35" font-size="2.6" fill="#555" stroke="#555" stroke-width="0.1">****</text>
<text class="a e" x="375.5" y="207.6" font-size="3.3" fill="#222" stroke="#222" stroke-width="0.18">MPA 30uM</text>
<text class="a e" x="375.5" y="213.4" font-size="3.3" fill="#222" stroke="#222" stroke-width="0.18">NOHAC 30uM</text>
<text class="a e" x="375.5" y="218.8" font-size="3.3" fill="#222" stroke="#222" stroke-width="0.18">T3 100nM</text>
<path d="M379.6 202.4v1.3M389.8 202.4v1.3M400.2 202.4v1.3M410.3 202.4v1.3M420.7 202.4v1.3M430.7 202.4v1.3" stroke="#000" stroke-width="0.5"/>
<text class="ab m" x="400.2 410.3" y="207.5" font-size="3.2" fill="#555" stroke="#555" stroke-width="0.1">++</text>
<text class="ab m" x="379.6 389.8 420.7 430.7" y="207.5" font-size="3.2" fill="#555" stroke="#555" stroke-width="0.1">––––</text>
<text class="ab m" x="420.7 430.7" y="213.3" font-size="3.2" fill="#555" stroke="#555" stroke-width="0.1">++</text>
<text class="ab m" x="379.6 389.8 400.2 410.3" y="213.3" font-size="3.2" fill="#555" stroke="#555" stroke-width="0.1">––––</text>
<text class="ab m" x="389.8 410.3 430.7" y="218.7" font-size="3.2" fill="#555" stroke="#555" stroke-width="0.1">+++</text>
<text class="ab m" x="379.6 400.2 420.7" y="218.7" font-size="3.2" fill="#555" stroke="#555" stroke-width="0.1">–––</text>
<text class="s" x="458" y="158.1" font-size="6.2">B-4</text>
<path d="M474.5 164.5L474.5 202.4" stroke="#000" stroke-width="0.7"/>
<path d="M474.5 202.4L534 202.4" stroke="#000" stroke-width="0.7"/>
<path d="M472.9 202.4L474.5 202.4" stroke="#000" stroke-width="0.5"/>
<text class="a e" x="472.6" y="203.45" font-size="3.0" fill="#222" stroke="#222" stroke-width="0.14">0</text>
<path d="M472.9 192.93L474.5 192.93" stroke="#000" stroke-width="0.5"/>
<text class="a e" x="472.6" y="193.98" font-size="3.0" fill="#222" stroke="#222" stroke-width="0.14">1</text>
<path d="M472.9 183.45L474.5 183.45" stroke="#000" stroke-width="0.5"/>
<text class="a e" x="472.6" y="184.5" font-size="3.0" fill="#222" stroke="#222" stroke-width="0.14">2</text>
<path d="M472.9 173.97L474.5 173.97" stroke="#000" stroke-width="0.5"/>
<text class="a e" x="472.6" y="175.03" font-size="3.0" fill="#222" stroke="#222" stroke-width="0.14">3</text>
<path d="M472.9 164.5L474.5 164.5" stroke="#000" stroke-width="0.5"/>
<text class="a e" x="472.6" y="165.55" font-size="3.0" fill="#222" stroke="#222" stroke-width="0.14">4</text>
<text class="ab m" x="466.9" y="183.45" font-size="3.5" stroke="#000" stroke-width="0.16" transform="rotate(-90 466.9 183.45)">p-eIF4G/eIF4G</text>
<rect x="476.3" y="193.3" width="1.8" height="9.1" fill="#000" stroke="#000" stroke-width="0.65"/>
<path d="M480.5 188.5L480.5 189.4" stroke="#000" stroke-width="0.5"/>
<path d="M479.7 188.5L481.3 188.5" stroke="#000" stroke-width="0.5"/>
<rect x="479.3" y="189.7" width="2.4" height="12.7" fill="#fff" stroke="#000" stroke-width="0.65"/>
<path d="M487.2 195L487.2 196" stroke="#000" stroke-width="0.5"/>
<path d="M486.4 195L488 195" stroke="#000" stroke-width="0.5"/>
<rect x="486.3" y="196.3" width="1.8" height="6.1" fill="#000" stroke="#000" stroke-width="0.65"/>
<path d="M490.7 184.5L490.7 186" stroke="#000" stroke-width="0.5"/>
<path d="M489.9 184.5L491.5 184.5" stroke="#000" stroke-width="0.5"/>
<rect x="489.3" y="186.3" width="2.8" height="16.1" fill="#fff" stroke="#000" stroke-width="0.65"/>
<path d="M497.2 192.5L497.2 193.6" stroke="#000" stroke-width="0.5"/>
<path d="M496.4 192.5L498 192.5" stroke="#000" stroke-width="0.5"/>
<rect x="496.3" y="193.9" width="1.8" height="8.5" fill="#000" stroke="#000" stroke-width="0.65"/>
<path d="M500.7 190.5L500.7 191.4" stroke="#000" stroke-width="0.5"/>
<path d="M499.9 190.5L501.5 190.5" stroke="#000" stroke-width="0.5"/>
<rect x="499.7" y="191.7" width="2" height="10.7" fill="#fff" stroke="#000" stroke-width="0.65"/>
<rect x="505.9" y="187.7" width="1.8" height="14.7" fill="#000" stroke="#000" stroke-width="0.65"/>
<path d="M510.5 178L510.5 179.4" stroke="#000" stroke-width="0.5"/>
<path d="M509.7 178L511.3 178" stroke="#000" stroke-width="0.5"/>
<rect x="509.3" y="179.7" width="2.4" height="22.7" fill="#fff" stroke="#000" stroke-width="0.65"/>
<rect x="515.9" y="191.7" width="1.8" height="10.7" fill="#000" stroke="#000" stroke-width="0.65"/>
<path d="M520.5 181.5L520.5 183" stroke="#000" stroke-width="0.5"/>
<path d="M519.7 181.5L521.3 181.5" stroke="#000" stroke-width="0.5"/>
<rect x="519.3" y="183.3" width="2.4" height="19.1" fill="#fff" stroke="#000" stroke-width="0.65"/>
<rect x="525.9" y="189.3" width="1.8" height="13.1" fill="#000" stroke="#000" stroke-width="0.65"/>
<path d="M530.5 176.5L530.5 178" stroke="#000" stroke-width="0.5"/>
<path d="M529.7 176.5L531.3 176.5" stroke="#000" stroke-width="0.5"/>
<rect x="529.3" y="178.3" width="2.4" height="24.1" fill="#fff" stroke="#000" stroke-width="0.65"/>
<path d="M475.3 187.7V186.2H482.3V187.7" fill="none" stroke="#333" stroke-width="0.55"/>
<text class="a m" x="478.8" y="185.95" font-size="2.6" fill="#555" stroke="#555" stroke-width="0.1">****</text>
<path d="M485.3 183.1V181.6H492.7V183.1" fill="none" stroke="#333" stroke-width="0.55"/>
<text class="a m" x="489" y="181.35" font-size="2.6" fill="#555" stroke="#555" stroke-width="0.1">****</text>
<path d="M504.9 177.5V176H512.3V177.5" fill="none" stroke="#333" stroke-width="0.55"/>
<text class="a m" x="508.6" y="175.75" font-size="2.6" fill="#555" stroke="#555" stroke-width="0.1">****</text>
<path d="M514.9 178.5V177H522.3V178.5" fill="none" stroke="#333" stroke-width="0.55"/>
<text class="a m" x="518.6" y="176.75" font-size="2.6" fill="#555" stroke="#555" stroke-width="0.1">****</text>
<path d="M524.9 173.5V172H532.3V173.5" fill="none" stroke="#333" stroke-width="0.55"/>
<text class="a m" x="528.6" y="171.75" font-size="2.6" fill="#555" stroke="#555" stroke-width="0.1">****</text>
<text class="a e" x="475.5" y="207.5" font-size="2.85" fill="#222" stroke="#222" stroke-width="0.18">MPA 30uM</text>
<text class="a e" x="475.5" y="213.2" font-size="2.85" fill="#222" stroke="#222" stroke-width="0.18">NOHAC 30uM</text>
<text class="a e" x="475.5" y="217.7" font-size="2.85" fill="#222" stroke="#222" stroke-width="0.18">T3 100nM</text>
<path d="M479 202.4v1.3M489.2 202.4v1.3M499 202.4v1.3M508.8 202.4v1.3M518.8 202.4v1.3M528.8 202.4v1.3" stroke="#000" stroke-width="0.5"/>
<text class="ab m" x="499 508.8" y="207.4" font-size="3.2" fill="#555" stroke="#555" stroke-width="0.1">++</text>
<text class="ab m" x="479 489.2 518.8 528.8" y="207.4" font-size="3.2" fill="#555" stroke="#555" stroke-width="0.1">––––</text>
<text class="ab m" x="518.8 528.8" y="213.1" font-size="3.2" fill="#555" stroke="#555" stroke-width="0.1">++</text>
<text class="ab m" x="479 489.2 499 508.8" y="213.1" font-size="3.2" fill="#555" stroke="#555" stroke-width="0.1">––––</text>
<text class="ab m" x="489.2 508.8 528.8" y="217.6" font-size="3.2" fill="#555" stroke="#555" stroke-width="0.1">+++</text>
<text class="ab m" x="479 499 518.8" y="217.6" font-size="3.2" fill="#555" stroke="#555" stroke-width="0.1">–––</text>
<text class="s" x="12.3" y="245.5" font-size="8.6">C</text>
<text class="sb m" x="85" y="235.8" font-size="5.3" stroke="#000" stroke-width="0.15">KLE cells</text>
<rect x="36.2" y="243.8" width="97.1" height="77.2" fill="#f2f2f2"/>
<rect x="36.2" y="244" width="97.1" height="7" fill="#e6e6e6"/>
<rect x="36.2" y="253.5" width="97.1" height="6.5" fill="#ebebeb"/>
<rect x="36.2" y="260" width="97.1" height="6" fill="#ebebeb"/>
<rect x="36.2" y="269" width="97.1" height="7" fill="#e8e8e8"/>
<rect x="36.2" y="277.5" width="97.1" height="7.5" fill="#e7e7e7"/>
<rect x="36.2" y="286.5" width="97.1" height="8" fill="#e7e7e7"/>
<rect x="36.2" y="295.5" width="97.1" height="7" fill="#e8e8e8"/>
<rect x="36.2" y="304" width="97.1" height="8.5" fill="#e6e6e6"/>
<rect x="36.2" y="313" width="97.1" height="6.5" fill="#e8e8e8"/>
<rect x="72.4" y="246.2" width="15.2" height="5.2" rx="2.43" ry="2.34" fill="url(#gb)" opacity="0.85"/>
<rect x="87.1" y="246.2" width="15.2" height="5.2" rx="2.43" ry="2.34" fill="url(#gb)" opacity="1"/>
<rect x="102.9" y="246.2" width="15.2" height="5.2" rx="2.43" ry="2.34" fill="url(#gb)" opacity="0.03"/>
<rect x="118.2" y="246.2" width="15.2" height="5.2" rx="2.43" ry="2.34" fill="url(#gb)" opacity="0.2"/>
<rect x="37.5" y="254.1" width="15.2" height="5.4" rx="2.43" ry="2.43" fill="url(#gb)" opacity="0.95"/>
<rect x="54.2" y="254.1" width="15.2" height="5.4" rx="2.43" ry="2.43" fill="url(#gb)" opacity="0.95"/>
<rect x="72.4" y="254.1" width="15.2" height="5.4" rx="2.43" ry="2.43" fill="url(#gb)" opacity="0.95"/>
<rect x="87.1" y="254.1" width="15.2" height="5.4" rx="2.43" ry="2.43" fill="url(#gb)" opacity="0.95"/>
<rect x="102.9" y="254.1" width="15.2" height="5.4" rx="2.43" ry="2.43" fill="url(#gb)" opacity="0.95"/>
<rect x="118.2" y="254.1" width="15.2" height="5.4" rx="2.43" ry="2.43" fill="url(#gb)" opacity="0.95"/>
<rect x="37.5" y="260.9" width="15.2" height="4.8" rx="2.43" ry="2.16" fill="url(#gb)" opacity="0.95"/>
<rect x="54.2" y="260.9" width="15.2" height="4.8" rx="2.43" ry="2.16" fill="url(#gb)" opacity="0.9"/>
<rect x="72.4" y="260.9" width="15.2" height="4.8" rx="2.43" ry="2.16" fill="url(#gb)" opacity="0.7"/>
<rect x="87.1" y="260.9" width="15.2" height="4.8" rx="2.43" ry="2.16" fill="url(#gb)" opacity="0.7"/>
<rect x="102.9" y="260.9" width="15.2" height="4.8" rx="2.43" ry="2.16" fill="url(#gb)" opacity="0.85"/>
<rect x="118.2" y="260.9" width="15.2" height="4.8" rx="2.43" ry="2.16" fill="url(#gb)" opacity="0.85"/>
<rect x="37.5" y="270.3" width="15.2" height="5.2" rx="2.43" ry="2.34" fill="url(#gb)" opacity="0.9"/>
<rect x="54.2" y="270.3" width="15.2" height="5.2" rx="2.43" ry="2.34" fill="url(#gb)" opacity="0.9"/>
<rect x="72.4" y="270.3" width="15.2" height="5.2" rx="2.43" ry="2.34" fill="url(#gb)" opacity="0.85"/>
<rect x="87.1" y="270.3" width="15.2" height="5.2" rx="2.43" ry="2.34" fill="url(#gb)" opacity="0.85"/>
<rect x="102.9" y="270.3" width="15.2" height="5.2" rx="2.43" ry="2.34" fill="url(#gb)" opacity="0.9"/>
<rect x="118.2" y="270.3" width="15.2" height="5.2" rx="2.43" ry="2.34" fill="url(#gb)" opacity="0.9"/>
<rect x="37.5" y="278.6" width="15.2" height="5.6" rx="2.43" ry="2.52" fill="url(#gb)" opacity="0.95"/>
<rect x="54.2" y="278.6" width="15.2" height="5.6" rx="2.43" ry="2.52" fill="url(#gb)" opacity="1"/>
<rect x="72.4" y="278.6" width="15.2" height="5.6" rx="2.43" ry="2.52" fill="url(#gb)" opacity="0.15"/>
<rect x="87.1" y="278.6" width="15.2" height="5.6" rx="2.43" ry="2.52" fill="url(#gb)" opacity="0.15"/>
<rect x="102.9" y="278.6" width="15.2" height="5.6" rx="2.43" ry="2.52" fill="url(#gb)" opacity="0.65"/>
<rect x="118.2" y="278.6" width="15.2" height="5.6" rx="2.43" ry="2.52" fill="url(#gb)" opacity="0.85"/>
<rect x="37.5" y="287.4" width="15.2" height="6.6" rx="2.43" ry="2.97" fill="url(#gb)" opacity="0.95"/>
<rect x="54.2" y="287.4" width="15.2" height="6.6" rx="2.43" ry="2.97" fill="url(#gb)" opacity="0.95"/>
<rect x="72.4" y="287.4" width="15.2" height="6.6" rx="2.43" ry="2.97" fill="url(#gb)" opacity="0.25"/>
<rect x="87.1" y="287.4" width="15.2" height="6.6" rx="2.43" ry="2.97" fill="url(#gb)" opacity="0.15"/>
<rect x="102.9" y="287.4" width="15.2" height="6.6" rx="2.43" ry="2.97" fill="url(#gb)" opacity="0.45"/>
<rect x="118.2" y="287.4" width="15.2" height="6.6" rx="2.43" ry="2.97" fill="url(#gb)" opacity="0.65"/>
<rect x="37.5" y="296.1" width="15.2" height="5.6" rx="2.43" ry="2.52" fill="url(#gb)" opacity="1"/>
<rect x="54.2" y="296.1" width="15.2" height="5.6" rx="2.43" ry="2.52" fill="url(#gb)" opacity="1"/>
<rect x="72.4" y="296.1" width="15.2" height="5.6" rx="2.43" ry="2.52" fill="url(#gb)" opacity="0.4"/>
<rect x="87.1" y="296.1" width="15.2" height="5.6" rx="2.43" ry="2.52" fill="url(#gb)" opacity="0.95"/>
<rect x="102.9" y="296.1" width="15.2" height="5.6" rx="2.43" ry="2.52" fill="url(#gb)" opacity="1"/>
<rect x="118.2" y="296.1" width="15.2" height="5.6" rx="2.43" ry="2.52" fill="url(#gb)" opacity="1"/>
<rect x="37.5" y="304.7" width="15.2" height="7" rx="2.43" ry="3.15" fill="url(#gb)" opacity="0.95"/>
<rect x="54.2" y="304.7" width="15.2" height="7" rx="2.43" ry="3.15" fill="url(#gb)" opacity="0.85"/>
<rect x="72.4" y="304.7" width="15.2" height="7" rx="2.43" ry="3.15" fill="url(#gb)" opacity="0.05"/>
<rect x="87.1" y="304.7" width="15.2" height="7" rx="2.43" ry="3.15" fill="url(#gb)" opacity="0.2"/>
<rect x="102.9" y="304.7" width="15.2" height="7" rx="2.43" ry="3.15" fill="url(#gb)" opacity="1"/>
<rect x="118.2" y="304.7" width="15.2" height="7" rx="2.43" ry="3.15" fill="url(#gb)" opacity="1"/>
<rect x="37.5" y="313.5" width="15.2" height="5.2" rx="2.43" ry="2.34" fill="url(#gb)" opacity="0.95"/>
<rect x="54.2" y="313.5" width="15.2" height="5.2" rx="2.43" ry="2.34" fill="url(#gb)" opacity="0.95"/>
<rect x="72.4" y="313.5" width="15.2" height="5.2" rx="2.43" ry="2.34" fill="url(#gb)" opacity="0.95"/>
<rect x="87.1" y="313.5" width="15.2" height="5.2" rx="2.43" ry="2.34" fill="url(#gb)" opacity="0.95"/>
<rect x="102.9" y="313.5" width="15.2" height="5.2" rx="2.43" ry="2.34" fill="url(#gb)" opacity="0.95"/>
<rect x="118.2" y="313.5" width="15.2" height="5.2" rx="2.43" ry="2.34" fill="url(#gb)" opacity="0.95"/>
<rect x="36.20" y="243.80" width="97.10" height="77.20" fill="none" stroke="#666" stroke-width="0.6"/>
<text class="sb e" x="33.4" y="250" font-size="3.4" stroke="#000" stroke-width="0.1">p-Akt</text>
<text class="sb e" x="33.4" y="258" font-size="3.4" stroke="#000" stroke-width="0.1">Akt</text>
<text class="sb e" x="33.4" y="264.2" font-size="3.4" stroke="#000" stroke-width="0.1">p-mTOR</text>
<text class="sb e" x="33.4" y="273.7" font-size="3.4" stroke="#000" stroke-width="0.1">mTOR</text>
<text class="sb e" x="33.4" y="282.2" font-size="3.4" stroke="#000" stroke-width="0.1">p-4EBP1</text>
<text class="sb e" x="33.4" y="291.7" font-size="3.4" stroke="#000" stroke-width="0.1">4EBP1</text>
<text class="sb e" x="33.4" y="300" font-size="3.4" stroke="#000" stroke-width="0.1">p-eIF4G</text>
<text class="sb e" x="33.4" y="308.7" font-size="3.4" stroke="#000" stroke-width="0.1">eIF4G</text>
<text class="sb e" x="33.4" y="317.2" font-size="3.4" stroke="#000" stroke-width="0.1">GAPDH</text>
<text class="sb e" x="35.8" y="326.7" font-size="3.4" stroke="#000" stroke-width="0.16">30uM MPA</text>
<text class="sb e" x="35.8" y="331.7" font-size="3.4" stroke="#000" stroke-width="0.16">30uM NOHAC</text>
<text class="sb e" x="35.8" y="337.2" font-size="3.4" stroke="#000" stroke-width="0.16">100nM T3</text>
<text class="ab m" x="77.4 95.3" y="327" font-size="4.4" fill="#222" stroke="#222" stroke-width="0.2">++</text>
<text class="ab m" x="45.5 60.7 111.6 127.8" y="327" font-size="3.4" fill="#222" stroke="#222" stroke-width="0.2">––––</text>
<text class="ab m" x="111.6 127.8" y="332" font-size="4.4" fill="#222" stroke="#222" stroke-width="0.2">++</text>
<text class="ab m" x="45.5 60.7 77.4 95.3" y="332" font-size="3.4" fill="#222" stroke="#222" stroke-width="0.2">––––</text>
<text class="ab m" x="60.7 95.3 127.8" y="337.5" font-size="4.4" fill="#222" stroke="#222" stroke-width="0.2">+++</text>
<text class="ab m" x="45.5 77.4 111.6" y="337.5" font-size="3.4" fill="#222" stroke="#222" stroke-width="0.2">–––</text>
<text class="sb m" x="352.4" y="252.6" font-size="5.3" stroke="#000" stroke-width="0.15">KLE cells</text>
<text class="s" x="158" y="269.6" font-size="6.2">C-1</text>
<rect x="174.7" y="273" width="1.4" height="48.6" fill="#d4d4d4"/>
<path d="M174.4 273L174.4 321.6" stroke="#000" stroke-width="0.7"/>
<path d="M174.4 321.6L241 321.6" stroke="#000" stroke-width="0.7"/>
<path d="M172.8 321.6L174.4 321.6" stroke="#000" stroke-width="0.5"/>
<text class="a e" x="172.5" y="322.65" font-size="3.0" fill="#222" stroke="#222" stroke-width="0.14">0</text>
<path d="M172.8 309.45L174.4 309.45" stroke="#000" stroke-width="0.5"/>
<text class="a e" x="172.5" y="310.5" font-size="3.0" fill="#222" stroke="#222" stroke-width="0.14">10</text>
<path d="M172.8 297.3L174.4 297.3" stroke="#000" stroke-width="0.5"/>
<text class="a e" x="172.5" y="298.35" font-size="3.0" fill="#222" stroke="#222" stroke-width="0.14">20</text>
<path d="M172.8 285.15L174.4 285.15" stroke="#000" stroke-width="0.5"/>
<text class="a e" x="172.5" y="286.2" font-size="3.0" fill="#222" stroke="#222" stroke-width="0.14">30</text>
<path d="M172.8 273L174.4 273" stroke="#000" stroke-width="0.5"/>
<text class="a e" x="172.5" y="274.05" font-size="3.0" fill="#222" stroke="#222" stroke-width="0.14">40</text>
<text class="ab m" x="166.9" y="297.3" font-size="3.5" stroke="#000" stroke-width="0.16" transform="rotate(-90 166.9 297.3)">p-Akt/Akt</text>
<rect x="177.3" y="321.3" width="4.4" height="0.3" fill="#fff" stroke="#000" stroke-width="0.65"/>
<rect x="185.3" y="320.9" width="4.4" height="0.7" fill="#fff" stroke="#000" stroke-width="0.65"/>
<path d="M194.9 305.5L194.9 308" stroke="#000" stroke-width="0.5"/>
<path d="M194.1 305.5L195.7 305.5" stroke="#000" stroke-width="0.5"/>
<rect x="192.7" y="308.3" width="4.4" height="13.3" fill="#fff" stroke="#000" stroke-width="0.65"/>
<path d="M202.5 286L202.5 295.4" stroke="#000" stroke-width="0.5"/>
<path d="M201.7 286L203.3 286" stroke="#000" stroke-width="0.5"/>
<rect x="200.3" y="295.7" width="4.4" height="25.9" fill="#fff" stroke="#000" stroke-width="0.65"/>
<rect x="212.7" y="321.3" width="4" height="0.3" fill="#9c9c9c" stroke="#000" stroke-width="0.65"/>
<rect x="220.3" y="321.1" width="3.8" height="0.5" fill="#9c9c9c" stroke="#000" stroke-width="0.65"/>
<path d="M229.8 318L229.8 319.4" stroke="#000" stroke-width="0.5"/>
<path d="M229 318L230.6 318" stroke="#000" stroke-width="0.5"/>
<rect x="227.9" y="319.7" width="3.8" height="1.9" fill="#9c9c9c" stroke="#000" stroke-width="0.65"/>
<path d="M237.3 316.5L237.3 318.4" stroke="#000" stroke-width="0.5"/>
<path d="M236.5 316.5L238.1 316.5" stroke="#000" stroke-width="0.5"/>
<rect x="235.3" y="318.7" width="4" height="2.9" fill="#9c9c9c" stroke="#000" stroke-width="0.65"/>
<path d="M177.2 276.8V275.3H202.6V276.8" fill="none" stroke="#333" stroke-width="0.55"/>
<text class="a m" x="189.9" y="275.05" font-size="2.6" fill="#555" stroke="#555" stroke-width="0.1">****</text>
<path d="M184.5 283V281.5H202.6V283" fill="none" stroke="#333" stroke-width="0.55"/>
<text class="a m" x="193.55" y="281.25" font-size="2.6" fill="#555" stroke="#555" stroke-width="0.1">****</text>
<text class="a e" x="174.1" y="327.1" font-size="3.2" fill="#222" stroke="#222" stroke-width="0.18">MPA 30uM</text>
<text class="a e" x="174.1" y="332.5" font-size="3.2" fill="#222" stroke="#222" stroke-width="0.18">NOHAC 30uM</text>
<text class="a e" x="174.1" y="337.7" font-size="3.2" fill="#222" stroke="#222" stroke-width="0.18">T3 100nM</text>
<path d="M179.5 321.6v1.3M187.5 321.6v1.3M194.9 321.6v1.3M202.5 321.6v1.3M214.7 321.6v1.3M222.2 321.6v1.3M229.8 321.6v1.3M237.3 321.6v1.3" stroke="#000" stroke-width="0.5"/>
<text class="ab m" x="194.9 202.5" y="327" font-size="3.2" fill="#555" stroke="#555" stroke-width="0.1">++</text>
<text class="ab m" x="179.5 187.5 214.7 222.2 229.8 237.3" y="327" font-size="3.2" fill="#555" stroke="#555" stroke-width="0.1">––––––</text>
<text class="ab m" x="229.8 237.3" y="332.4" font-size="3.2" fill="#555" stroke="#555" stroke-width="0.1">++</text>
<text class="ab m" x="179.5 187.5 194.9 202.5 214.7 222.2" y="332.4" font-size="3.2" fill="#555" stroke="#555" stroke-width="0.1">––––––</text>
<text class="ab m" x="187.5 202.5 222.2 237.3" y="337.6" font-size="3.2" fill="#555" stroke="#555" stroke-width="0.1">++++</text>
<text class="ab m" x="179.5 194.9 214.7 229.8" y="337.6" font-size="3.2" fill="#555" stroke="#555" stroke-width="0.1">––––</text>
<text class="s" x="249.4" y="269.6" font-size="6.2">C-2</text>
<path d="M270.5 275.6L270.5 321" stroke="#000" stroke-width="0.7"/>
<path d="M270.5 321L333 321" stroke="#000" stroke-width="0.7"/>
<path d="M268.9 321L270.5 321" stroke="#000" stroke-width="0.5"/>
<text class="a e" x="268.6" y="322.05" font-size="3.0" fill="#222" stroke="#222" stroke-width="0.14">0.0</text>
<path d="M268.9 305.87L270.5 305.87" stroke="#000" stroke-width="0.5"/>
<text class="a e" x="268.6" y="306.92" font-size="3.0" fill="#222" stroke="#222" stroke-width="0.14">0.5</text>
<path d="M268.9 290.73L270.5 290.73" stroke="#000" stroke-width="0.5"/>
<text class="a e" x="268.6" y="291.78" font-size="3.0" fill="#222" stroke="#222" stroke-width="0.14">1.0</text>
<path d="M268.9 275.6L270.5 275.6" stroke="#000" stroke-width="0.5"/>
<text class="a e" x="268.6" y="276.65" font-size="3.0" fill="#222" stroke="#222" stroke-width="0.14">1.5</text>
<text class="ab m" x="260.8" y="298.3" font-size="3.5" stroke="#000" stroke-width="0.16" transform="rotate(-90 260.8 298.3)">p-mTOR/mTOR</text>
<rect x="273.7" y="291.3" width="3.4" height="29.7" fill="#fff" stroke="#000" stroke-width="0.65"/>
<path d="M282.6 284L282.6 287" stroke="#000" stroke-width="0.5"/>
<path d="M281.8 284L283.4 284" stroke="#000" stroke-width="0.5"/>
<rect x="280.9" y="287.3" width="3.4" height="33.7" fill="#fff" stroke="#000" stroke-width="0.65"/>
<path d="M289.4 298L289.4 298.6" stroke="#000" stroke-width="0.5"/>
<path d="M288.6 298L290.2 298" stroke="#000" stroke-width="0.5"/>
<rect x="287.7" y="298.9" width="3.4" height="22.1" fill="#fff" stroke="#000" stroke-width="0.65"/>
<path d="M296.5 298L296.5 298.6" stroke="#000" stroke-width="0.5"/>
<path d="M295.7 298L297.3 298" stroke="#000" stroke-width="0.5"/>
<rect x="294.7" y="298.9" width="3.6" height="22.1" fill="#fff" stroke="#000" stroke-width="0.65"/>
<rect x="306.3" y="291.3" width="3.4" height="29.7" fill="#9c9c9c" stroke="#000" stroke-width="0.65"/>
<path d="M315 285.5L315 287.4" stroke="#000" stroke-width="0.5"/>
<path d="M314.2 285.5L315.8 285.5" stroke="#000" stroke-width="0.5"/>
<rect x="313.3" y="287.7" width="3.4" height="33.3" fill="#9c9c9c" stroke="#000" stroke-width="0.65"/>
<path d="M321.6 290L321.6 291.4" stroke="#000" stroke-width="0.5"/>
<path d="M320.8 290L322.4 290" stroke="#000" stroke-width="0.5"/>
<rect x="319.9" y="291.7" width="3.4" height="29.3" fill="#9c9c9c" stroke="#000" stroke-width="0.65"/>
<path d="M328.8 290L328.8 291.4" stroke="#000" stroke-width="0.5"/>
<path d="M328 290L329.6 290" stroke="#000" stroke-width="0.5"/>
<rect x="326.9" y="291.7" width="3.8" height="29.3" fill="#9c9c9c" stroke="#000" stroke-width="0.65"/>
<path d="M274.2 272.7V271.2H297.8V272.7" fill="none" stroke="#333" stroke-width="0.55"/>
<text class="a m" x="286" y="270.95" font-size="2.6" fill="#555" stroke="#555" stroke-width="0.1">****</text>
<path d="M274.2 275.9V274.4H290.9V275.9" fill="none" stroke="#333" stroke-width="0.55"/>
<text class="a m" x="282.55" y="274.15" font-size="2.6" fill="#555" stroke="#555" stroke-width="0.1">****</text>
<path d="M281.9 279.8V278.3H297.8V279.8" fill="none" stroke="#333" stroke-width="0.55"/>
<text class="a m" x="289.85" y="278.05" font-size="2.6" fill="#555" stroke="#555" stroke-width="0.1">****</text>
<path d="M281.9 281.9V280.4H289.5V281.9" fill="none" stroke="#333" stroke-width="0.55"/>
<text class="a m" x="285.7" y="280.15" font-size="2.6" fill="#555" stroke="#555" stroke-width="0.1">****</text>
<text class="a e" x="269.3" y="326.7" font-size="3.1" fill="#222" stroke="#222" stroke-width="0.18">MPA 30uM</text>
<text class="a e" x="269.3" y="332.1" font-size="3.1" fill="#222" stroke="#222" stroke-width="0.18">NOHAC 30uM</text>
<text class="a e" x="269.3" y="337.5" font-size="3.1" fill="#222" stroke="#222" stroke-width="0.18">T3 100nM</text>
<path d="M275.4 321v1.3M282.6 321v1.3M289.4 321v1.3M296.5 321v1.3M308 321v1.3M315 321v1.3M321.6 321v1.3M328.8 321v1.3" stroke="#000" stroke-width="0.5"/>
<text class="ab m" x="289.4 296.5" y="326.6" font-size="3.2" fill="#555" stroke="#555" stroke-width="0.1">++</text>
<text class="ab m" x="275.4 282.6 308 315 321.6 328.8" y="326.6" font-size="3.2" fill="#555" stroke="#555" stroke-width="0.1">––––––</text>
<text class="ab m" x="321.6 328.8" y="332" font-size="3.2" fill="#555" stroke="#555" stroke-width="0.1">++</text>
<text class="ab m" x="275.4 282.6 289.4 296.5 308 315" y="332" font-size="3.2" fill="#555" stroke="#555" stroke-width="0.1">––––––</text>
<text class="ab m" x="282.6 296.5 315 328.8" y="337.4" font-size="3.2" fill="#555" stroke="#555" stroke-width="0.1">++++</text>
<text class="ab m" x="275.4 289.4 308 321.6" y="337.4" font-size="3.2" fill="#555" stroke="#555" stroke-width="0.1">––––</text>
<text class="s" x="356" y="269" font-size="6.2">C-3</text>
<path d="M374 273.6L374 321.6" stroke="#000" stroke-width="0.7"/>
<path d="M374 321.6L436 321.6" stroke="#000" stroke-width="0.7"/>
<path d="M372.4 321.6L374 321.6" stroke="#000" stroke-width="0.5"/>
<text class="a e" x="372.1" y="322.65" font-size="3.0" fill="#222" stroke="#222" stroke-width="0.14">0.0</text>
<path d="M372.4 305.6L374 305.6" stroke="#000" stroke-width="0.5"/>
<text class="a e" x="372.1" y="306.65" font-size="3.0" fill="#222" stroke="#222" stroke-width="0.14">0.5</text>
<path d="M372.4 289.6L374 289.6" stroke="#000" stroke-width="0.5"/>
<text class="a e" x="372.1" y="290.65" font-size="3.0" fill="#222" stroke="#222" stroke-width="0.14">1.0</text>
<path d="M372.4 273.6L374 273.6" stroke="#000" stroke-width="0.5"/>
<text class="a e" x="372.1" y="274.65" font-size="3.0" fill="#222" stroke="#222" stroke-width="0.14">1.5</text>
<text class="ab m" x="366.6" y="297.6" font-size="3.5" stroke="#000" stroke-width="0.16" transform="rotate(-90 366.6 297.6)">p-4EBP1/4EBP1</text>
<rect x="377.3" y="290.3" width="4" height="31.3" fill="#fff" stroke="#000" stroke-width="0.65"/>
<path d="M386.3 284L386.3 286.6" stroke="#000" stroke-width="0.5"/>
<path d="M385.5 284L387.1 284" stroke="#000" stroke-width="0.5"/>
<rect x="384.3" y="286.9" width="4" height="34.7" fill="#fff" stroke="#000" stroke-width="0.65"/>
<path d="M393.3 313.5L393.3 315.6" stroke="#000" stroke-width="0.5"/>
<path d="M392.5 313.5L394.1 313.5" stroke="#000" stroke-width="0.5"/>
<rect x="391.3" y="315.9" width="4" height="5.7" fill="#fff" stroke="#000" stroke-width="0.65"/>
<path d="M400.5 308L400.5 311" stroke="#000" stroke-width="0.5"/>
<path d="M399.7 308L401.3 308" stroke="#000" stroke-width="0.5"/>
<rect x="398.3" y="311.3" width="4.4" height="10.3" fill="#fff" stroke="#000" stroke-width="0.65"/>
<rect x="409.3" y="290.3" width="4.4" height="31.3" fill="#9c9c9c" stroke="#000" stroke-width="0.65"/>
<path d="M418.7 284.5L418.7 286.6" stroke="#000" stroke-width="0.5"/>
<path d="M417.9 284.5L419.5 284.5" stroke="#000" stroke-width="0.5"/>
<rect x="416.7" y="286.9" width="4" height="34.7" fill="#9c9c9c" stroke="#000" stroke-width="0.65"/>
<path d="M426 296.5L426 298.6" stroke="#000" stroke-width="0.5"/>
<path d="M425.2 296.5L426.8 296.5" stroke="#000" stroke-width="0.5"/>
<rect x="423.9" y="298.9" width="4.2" height="22.7" fill="#9c9c9c" stroke="#000" stroke-width="0.65"/>
<path d="M433.3 296.5L433.3 298" stroke="#000" stroke-width="0.5"/>
<path d="M432.5 296.5L434.1 296.5" stroke="#000" stroke-width="0.5"/>
<rect x="431.3" y="298.3" width="4" height="23.3" fill="#9c9c9c" stroke="#000" stroke-width="0.65"/>
<path d="M377.3 268.1V266.6H400.7V268.1" fill="none" stroke="#333" stroke-width="0.55"/>
<text class="a m" x="389" y="266.35" font-size="2.6" fill="#555" stroke="#555" stroke-width="0.1">****</text>
<path d="M377.3 271.4V269.9H391.4V271.4" fill="none" stroke="#333" stroke-width="0.55"/>
<text class="a m" x="384.35" y="269.65" font-size="2.6" fill="#555" stroke="#555" stroke-width="0.1">****</text>
<path d="M385.5 274.2V272.7H393.1V274.2" fill="none" stroke="#333" stroke-width="0.55"/>
<text class="a m" x="389.3" y="272.45" font-size="2.6" fill="#555" stroke="#555" stroke-width="0.1">****</text>
<path d="M385.5 279.9V278.4H400.7V279.9" fill="none" stroke="#333" stroke-width="0.55"/>
<text class="a m" x="393.1" y="278.15" font-size="2.6" fill="#555" stroke="#555" stroke-width="0.1">****</text>
<path d="M419.3 278.8V277.3H427.4V278.8" fill="none" stroke="#333" stroke-width="0.55"/>
<text class="a m" x="423.35" y="277.05" font-size="2.6" fill="#555" stroke="#555" stroke-width="0.1">****</text>
<text class="a e" x="372.6" y="326.9" font-size="3.0" fill="#222" stroke="#222" stroke-width="0.18">MPA 30uM</text>
<text class="a e" x="372.6" y="332.1" font-size="3.0" fill="#222" stroke="#222" stroke-width="0.18">NOHAC 30uM</text>
<text class="a e" x="372.6" y="337.1" font-size="3.0" fill="#222" stroke="#222" stroke-width="0.18">T3 100nM</text>
<path d="M379.3 321.6v1.3M386.3 321.6v1.3M393.3 321.6v1.3M400.5 321.6v1.3M411.5 321.6v1.3M418.7 321.6v1.3M426 321.6v1.3M433.3 321.6v1.3" stroke="#000" stroke-width="0.5"/>
<text class="ab m" x="393.3 400.5" y="326.8" font-size="3.2" fill="#555" stroke="#555" stroke-width="0.1">++</text>
<text class="ab m" x="379.3 386.3 411.5 418.7 426 433.3" y="326.8" font-size="3.2" fill="#555" stroke="#555" stroke-width="0.1">––––––</text>
<text class="ab m" x="426 433.3" y="332" font-size="3.2" fill="#555" stroke="#555" stroke-width="0.1">++</text>
<text class="ab m" x="379.3 386.3 393.3 400.5 411.5 418.7" y="332" font-size="3.2" fill="#555" stroke="#555" stroke-width="0.1">––––––</text>
<text class="ab m" x="386.3 400.5 418.7 433.3" y="337" font-size="3.2" fill="#555" stroke="#555" stroke-width="0.1">++++</text>
<text class="ab m" x="379.3 393.3 411.5 426" y="337" font-size="3.2" fill="#555" stroke="#555" stroke-width="0.1">––––</text>
<text class="s" x="456" y="269" font-size="6.2">C-4</text>
<path d="M476 277L476 322.4" stroke="#000" stroke-width="0.7"/>
<path d="M476 322.4L539 322.4" stroke="#000" stroke-width="0.7"/>
<path d="M474.4 322.4L476 322.4" stroke="#000" stroke-width="0.5"/>
<text class="a e" x="474.1" y="323.45" font-size="3.0" fill="#222" stroke="#222" stroke-width="0.14">0</text>
<path d="M474.4 313.32L476 313.32" stroke="#000" stroke-width="0.5"/>
<text class="a e" x="474.1" y="314.37" font-size="3.0" fill="#222" stroke="#222" stroke-width="0.14">1</text>
<path d="M474.4 304.24L476 304.24" stroke="#000" stroke-width="0.5"/>
<text class="a e" x="474.1" y="305.29" font-size="3.0" fill="#222" stroke="#222" stroke-width="0.14">2</text>
<path d="M474.4 295.16L476 295.16" stroke="#000" stroke-width="0.5"/>
<text class="a e" x="474.1" y="296.21" font-size="3.0" fill="#222" stroke="#222" stroke-width="0.14">3</text>
<path d="M474.4 286.08L476 286.08" stroke="#000" stroke-width="0.5"/>
<text class="a e" x="474.1" y="287.13" font-size="3.0" fill="#222" stroke="#222" stroke-width="0.14">4</text>
<path d="M474.4 277L476 277" stroke="#000" stroke-width="0.5"/>
<text class="a e" x="474.1" y="278.05" font-size="3.0" fill="#222" stroke="#222" stroke-width="0.14">5</text>
<text class="ab m" x="470.1" y="299.7" font-size="3.5" stroke="#000" stroke-width="0.16" transform="rotate(-90 470.1 299.7)">p-eIF4G/eIF4G</text>
<rect x="478.7" y="313.9" width="4" height="8.5" fill="#fff" stroke="#000" stroke-width="0.65"/>
<path d="M488 311.5L488 313" stroke="#000" stroke-width="0.5"/>
<path d="M487.2 311.5L488.8 311.5" stroke="#000" stroke-width="0.5"/>
<rect x="485.9" y="313.3" width="4.2" height="9.1" fill="#fff" stroke="#000" stroke-width="0.65"/>
<path d="M495.5 284L495.5 286" stroke="#000" stroke-width="0.5"/>
<path d="M494.7 284L496.3 284" stroke="#000" stroke-width="0.5"/>
<rect x="493.3" y="286.3" width="4.4" height="36.1" fill="#fff" stroke="#000" stroke-width="0.65"/>
<path d="M502.5 283L502.5 291" stroke="#000" stroke-width="0.5"/>
<path d="M501.7 283L503.3 283" stroke="#000" stroke-width="0.5"/>
<rect x="500.3" y="291.3" width="4.4" height="31.1" fill="#fff" stroke="#000" stroke-width="0.65"/>
<rect x="511.9" y="314.3" width="4.2" height="8.1" fill="#9c9c9c" stroke="#000" stroke-width="0.65"/>
<path d="M521.1 311.5L521.1 313" stroke="#000" stroke-width="0.5"/>
<path d="M520.3 311.5L521.9 311.5" stroke="#000" stroke-width="0.5"/>
<rect x="518.9" y="313.3" width="4.4" height="9.1" fill="#9c9c9c" stroke="#000" stroke-width="0.65"/>
<path d="M528.5 310.5L528.5 312.4" stroke="#000" stroke-width="0.5"/>
<path d="M527.7 310.5L529.3 310.5" stroke="#000" stroke-width="0.5"/>
<rect x="526.3" y="312.7" width="4.4" height="9.7" fill="#9c9c9c" stroke="#000" stroke-width="0.65"/>
<path d="M535.5 311.5L535.5 313" stroke="#000" stroke-width="0.5"/>
<path d="M534.7 311.5L536.3 311.5" stroke="#000" stroke-width="0.5"/>
<rect x="533.3" y="313.3" width="4.4" height="9.1" fill="#9c9c9c" stroke="#000" stroke-width="0.65"/>
<path d="M478.3 269.8V268.3H503.3V269.8" fill="none" stroke="#333" stroke-width="0.55"/>
<text class="a m" x="490.8" y="268.05" font-size="2.6" fill="#555" stroke="#555" stroke-width="0.1">****</text>
<path d="M478.3 273.3V271.8H496.3V273.3" fill="none" stroke="#333" stroke-width="0.55"/>
<text class="a m" x="487.3" y="271.55" font-size="2.6" fill="#555" stroke="#555" stroke-width="0.1">****</text>
<path d="M485.5 276.9V275.4H503.3V276.9" fill="none" stroke="#333" stroke-width="0.55"/>
<text class="a m" x="494.4" y="275.15" font-size="2.6" fill="#555" stroke="#555" stroke-width="0.1">****</text>
<path d="M485.5 279.5V278H495.6V279.5" fill="none" stroke="#333" stroke-width="0.55"/>
<text class="a m" x="490.55" y="277.75" font-size="2.6" fill="#555" stroke="#555" stroke-width="0.1">****</text>
<text class="a e" x="475.9" y="327.1" font-size="3.05" fill="#222" stroke="#222" stroke-width="0.18">MPA 30uM</text>
<text class="a e" x="475.9" y="332.5" font-size="3.05" fill="#222" stroke="#222" stroke-width="0.18">NOHAC 30uM</text>
<text class="a e" x="475.9" y="337.7" font-size="3.05" fill="#222" stroke="#222" stroke-width="0.18">T3 100nM</text>
<path d="M480.7 322.4v1.3M488 322.4v1.3M495.5 322.4v1.3M502.5 322.4v1.3M514 322.4v1.3M521.1 322.4v1.3M528.5 322.4v1.3M535.5 322.4v1.3" stroke="#000" stroke-width="0.5"/>
<text class="ab m" x="495.5 502.5" y="327" font-size="3.2" fill="#555" stroke="#555" stroke-width="0.1">++</text>
<text class="ab m" x="480.7 488 514 521.1 528.5 535.5" y="327" font-size="3.2" fill="#555" stroke="#555" stroke-width="0.1">––––––</text>
<text class="ab m" x="528.5 535.5" y="332.4" font-size="3.2" fill="#555" stroke="#555" stroke-width="0.1">++</text>
<text class="ab m" x="480.7 488 495.5 502.5 514 521.1" y="332.4" font-size="3.2" fill="#555" stroke="#555" stroke-width="0.1">––––––</text>
<text class="ab m" x="488 502.5 521.1 535.5" y="337.6" font-size="3.2" fill="#555" stroke="#555" stroke-width="0.1">++++</text>
<text class="ab m" x="480.7 495.5 514 528.5" y="337.6" font-size="3.2" fill="#555" stroke="#555" stroke-width="0.1">––––</text>
<text class="s" x="5.2" y="358.5" font-size="8.6">D</text>
<text class="sb m" x="86.4" y="351.8" font-size="5.3" stroke="#000" stroke-width="0.15">KLE cells</text>
<path d="M49.8 354L118.4 354" stroke="#000" stroke-width="0.55"/>
<text class="sb m" x="56.4" y="360.3" font-size="4.4" stroke="#000" stroke-width="0.1">si-Ctrl.</text>
<text class="sb m" x="110" y="360.3" font-size="4.4" stroke="#000" stroke-width="0.1">si-THRB</text>
<rect x="36.2" y="361.8" width="97.1" height="73.2" fill="#f1f1f1"/>
<rect x="36.2" y="362" width="97.1" height="8" fill="#e6e6e6"/>
<rect x="36.2" y="371.5" width="97.1" height="7" fill="#e8e8e8"/>
<rect x="36.2" y="378.5" width="97.1" height="5" fill="#e8e8e8"/>
<rect x="36.2" y="384.5" width="97.1" height="6.5" fill="#e8e8e8"/>
<rect x="36.2" y="391.5" width="97.1" height="8" fill="#ebebeb"/>
<rect x="36.2" y="400.5" width="97.1" height="7.5" fill="#e7e7e7"/>
<rect x="36.2" y="409" width="97.1" height="7.5" fill="#e8e8e8"/>
<rect x="36.2" y="417.5" width="97.1" height="8.5" fill="#e7e7e7"/>
<rect x="36.2" y="426.5" width="97.1" height="8" fill="#e1e1e1"/>
<rect x="37.5" y="428" width="94.5" height="5.2" fill="url(#gs)" opacity="0.5"/>
<rect x="37.5" y="429.2" width="46.5" height="4" fill="url(#gs)" opacity="0.25"/>
<rect x="86" y="429.2" width="46" height="4" fill="url(#gs)" opacity="0.2"/>
<rect x="36.9" y="364.4" width="8" height="5.8" rx="1.28" ry="2.61" fill="url(#gb)" opacity="0.5"/>
<rect x="45.2" y="364.4" width="8" height="5.8" rx="1.28" ry="2.61" fill="url(#gb)" opacity="0.95"/>
<rect x="53.4" y="364.4" width="8" height="5.8" rx="1.28" ry="2.61" fill="url(#gb)" opacity="0.6"/>
<rect x="61.5" y="364.4" width="8" height="5.8" rx="1.28" ry="2.61" fill="url(#gb)" opacity="0.55"/>
<rect x="69.7" y="364.4" width="8" height="5.8" rx="1.28" ry="2.61" fill="url(#gb)" opacity="1"/>
<rect x="77.6" y="364.4" width="8" height="5.8" rx="1.28" ry="2.61" fill="url(#gb)" opacity="0.95"/>
<rect x="85.9" y="364.4" width="8" height="5.8" rx="1.28" ry="2.61" fill="url(#gb)" opacity="0.75"/>
<rect x="93.8" y="364.4" width="8" height="5.8" rx="1.28" ry="2.61" fill="url(#gb)" opacity="0.65"/>
<rect x="102" y="364.4" width="8" height="5.8" rx="1.28" ry="2.61" fill="url(#gb)" opacity="0.35"/>
<rect x="110.1" y="364.4" width="8" height="5.8" rx="1.28" ry="2.61" fill="url(#gb)" opacity="0.3"/>
<rect x="117.9" y="364.4" width="8" height="5.8" rx="1.28" ry="2.61" fill="url(#gb)" opacity="0.45"/>
<rect x="125.4" y="364.4" width="8" height="5.8" rx="1.28" ry="2.61" fill="url(#gb)" opacity="0.35"/>
<rect x="36.9" y="372.3" width="8" height="6" rx="1.28" ry="2.7" fill="url(#gb)" opacity="1"/>
<rect x="45.2" y="372.3" width="8" height="6" rx="1.28" ry="2.7" fill="url(#gb)" opacity="1"/>
<rect x="53.4" y="372.3" width="8" height="6" rx="1.28" ry="2.7" fill="url(#gb)" opacity="1"/>
<rect x="61.5" y="372.3" width="8" height="6" rx="1.28" ry="2.7" fill="url(#gb)" opacity="1"/>
<rect x="69.7" y="372.3" width="8" height="6" rx="1.28" ry="2.7" fill="url(#gb)" opacity="1"/>
<rect x="77.6" y="372.3" width="8" height="6" rx="1.28" ry="2.7" fill="url(#gb)" opacity="1"/>
<rect x="85.9" y="372.3" width="8" height="6" rx="1.28" ry="2.7" fill="url(#gb)" opacity="1"/>
<rect x="93.8" y="372.3" width="8" height="6" rx="1.28" ry="2.7" fill="url(#gb)" opacity="1"/>
<rect x="102" y="372.3" width="8" height="6" rx="1.28" ry="2.7" fill="url(#gb)" opacity="1"/>
<rect x="110.1" y="372.3" width="8" height="6" rx="1.28" ry="2.7" fill="url(#gb)" opacity="1"/>
<rect x="117.9" y="372.3" width="8" height="6" rx="1.28" ry="2.7" fill="url(#gb)" opacity="1"/>
<rect x="125.4" y="372.3" width="8" height="6" rx="1.28" ry="2.7" fill="url(#gb)" opacity="1"/>
<rect x="36.9" y="378.2" width="8" height="5.4" rx="1.28" ry="2.43" fill="url(#gb)" opacity="0.85"/>
<rect x="45.2" y="378.2" width="8" height="5.4" rx="1.28" ry="2.43" fill="url(#gb)" opacity="0.75"/>
<rect x="53.4" y="378.2" width="8" height="5.4" rx="1.28" ry="2.43" fill="url(#gb)" opacity="0.35"/>
<rect x="61.5" y="378.2" width="8" height="5.4" rx="1.28" ry="2.43" fill="url(#gb)" opacity="0.3"/>
<rect x="69.7" y="378.2" width="8" height="5.4" rx="1.28" ry="2.43" fill="url(#gb)" opacity="0.8"/>
<rect x="77.6" y="378.2" width="8" height="5.4" rx="1.28" ry="2.43" fill="url(#gb)" opacity="0.75"/>
<rect x="85.9" y="378.2" width="8" height="5.4" rx="1.28" ry="2.43" fill="url(#gb)" opacity="0.75"/>
<rect x="93.8" y="378.2" width="8" height="5.4" rx="1.28" ry="2.43" fill="url(#gb)" opacity="0.7"/>
<rect x="102" y="378.2" width="8" height="5.4" rx="1.28" ry="2.43" fill="url(#gb)" opacity="0.45"/>
<rect x="110.1" y="378.2" width="8" height="5.4" rx="1.28" ry="2.43" fill="url(#gb)" opacity="0.75"/>
<rect x="117.9" y="378.2" width="8" height="5.4" rx="1.28" ry="2.43" fill="url(#gb)" opacity="0.85"/>
<rect x="125.4" y="378.2" width="8" height="5.4" rx="1.28" ry="2.43" fill="url(#gb)" opacity="0.85"/>
<rect x="36.9" y="385.05" width="8" height="5.5" rx="1.28" ry="2.48" fill="url(#gb)" opacity="0.8"/>
<rect x="45.2" y="385.05" width="8" height="5.5" rx="1.28" ry="2.48" fill="url(#gb)" opacity="0.65"/>
<rect x="53.4" y="385.05" width="8" height="5.5" rx="1.28" ry="2.48" fill="url(#gb)" opacity="0.5"/>
<rect x="61.5" y="385.05" width="8" height="5.5" rx="1.28" ry="2.48" fill="url(#gb)" opacity="0.6"/>
<rect x="69.7" y="385.05" width="8" height="5.5" rx="1.28" ry="2.48" fill="url(#gb)" opacity="0.9"/>
<rect x="77.6" y="385.05" width="8" height="5.5" rx="1.28" ry="2.48" fill="url(#gb)" opacity="0.9"/>
<rect x="85.9" y="385.05" width="8" height="5.5" rx="1.28" ry="2.48" fill="url(#gb)" opacity="0.9"/>
<rect x="93.8" y="385.05" width="8" height="5.5" rx="1.28" ry="2.48" fill="url(#gb)" opacity="0.9"/>
<rect x="102" y="385.05" width="8" height="5.5" rx="1.28" ry="2.48" fill="url(#gb)" opacity="0.85"/>
<rect x="110.1" y="385.05" width="8" height="5.5" rx="1.28" ry="2.48" fill="url(#gb)" opacity="0.85"/>
<rect x="117.9" y="385.05" width="8" height="5.5" rx="1.28" ry="2.48" fill="url(#gb)" opacity="0.9"/>
<rect x="125.4" y="385.05" width="8" height="5.5" rx="1.28" ry="2.48" fill="url(#gb)" opacity="0.85"/>
<rect x="36.9" y="392.5" width="8" height="6.4" rx="1.28" ry="2.88" fill="url(#gb)" opacity="0.85"/>
<rect x="45.2" y="392.5" width="8" height="6.4" rx="1.28" ry="2.88" fill="url(#gb)" opacity="1"/>
<rect x="69.7" y="392.5" width="8" height="6.4" rx="1.28" ry="2.88" fill="url(#gb)" opacity="0.6"/>
<rect x="77.6" y="392.5" width="8" height="6.4" rx="1.28" ry="2.88" fill="url(#gb)" opacity="0.5"/>
<rect x="85.9" y="392.5" width="8" height="6.4" rx="1.28" ry="2.88" fill="url(#gb)" opacity="1"/>
<rect x="93.8" y="392.5" width="8" height="6.4" rx="1.28" ry="2.88" fill="url(#gb)" opacity="1"/>
<rect x="117.9" y="392.5" width="8" height="6.4" rx="1.28" ry="2.88" fill="url(#gb)" opacity="0.08"/>
<rect x="125.4" y="392.5" width="8" height="6.4" rx="1.28" ry="2.88" fill="url(#gb)" opacity="0.05"/>
<rect x="36.9" y="401.6" width="8" height="5.8" rx="1.28" ry="2.61" fill="url(#gb)" opacity="0.9"/>
<rect x="45.2" y="401.6" width="8" height="5.8" rx="1.28" ry="2.61" fill="url(#gb)" opacity="0.9"/>
<rect x="53.4" y="401.6" width="8" height="5.8" rx="1.28" ry="2.61" fill="url(#gb)" opacity="0.9"/>
<rect x="61.5" y="401.6" width="8" height="5.8" rx="1.28" ry="2.61" fill="url(#gb)" opacity="0.9"/>
<rect x="69.7" y="401.6" width="8" height="5.8" rx="1.28" ry="2.61" fill="url(#gb)" opacity="0.9"/>
<rect x="77.6" y="401.6" width="8" height="5.8" rx="1.28" ry="2.61" fill="url(#gb)" opacity="0.9"/>
<rect x="85.9" y="401.6" width="8" height="5.8" rx="1.28" ry="2.61" fill="url(#gb)" opacity="0.9"/>
<rect x="93.8" y="401.6" width="8" height="5.8" rx="1.28" ry="2.61" fill="url(#gb)" opacity="0.9"/>
<rect x="102" y="401.6" width="8" height="5.8" rx="1.28" ry="2.61" fill="url(#gb)" opacity="0.9"/>
<rect x="110.1" y="401.6" width="8" height="5.8" rx="1.28" ry="2.61" fill="url(#gb)" opacity="0.9"/>
<rect x="117.9" y="401.6" width="8" height="5.8" rx="1.28" ry="2.61" fill="url(#gb)" opacity="0.9"/>
<rect x="125.4" y="401.6" width="8" height="5.8" rx="1.28" ry="2.61" fill="url(#gb)" opacity="0.9"/>
<rect x="36.9" y="410.05" width="8" height="5.5" rx="1.28" ry="2.48" fill="url(#gb)" opacity="0.55"/>
<rect x="45.2" y="410.05" width="8" height="5.5" rx="1.28" ry="2.48" fill="url(#gb)" opacity="0.6"/>
<rect x="53.4" y="410.05" width="8" height="5.5" rx="1.28" ry="2.48" fill="url(#gb)" opacity="0.9"/>
<rect x="61.5" y="410.05" width="8" height="5.5" rx="1.28" ry="2.48" fill="url(#gb)" opacity="0.95"/>
<rect x="69.7" y="410.05" width="8" height="5.5" rx="1.28" ry="2.48" fill="url(#gb)" opacity="0.95"/>
<rect x="77.6" y="410.05" width="8" height="5.5" rx="1.28" ry="2.48" fill="url(#gb)" opacity="0.9"/>
<rect x="85.9" y="410.05" width="8" height="5.5" rx="1.28" ry="2.48" fill="url(#gb)" opacity="0.8"/>
<rect x="93.8" y="410.05" width="8" height="5.5" rx="1.28" ry="2.48" fill="url(#gb)" opacity="0.85"/>
<rect x="102" y="410.05" width="8" height="5.5" rx="1.28" ry="2.48" fill="url(#gb)" opacity="0.9"/>
<rect x="110.1" y="410.05" width="8" height="5.5" rx="1.28" ry="2.48" fill="url(#gb)" opacity="0.9"/>
<rect x="117.9" y="410.05" width="8" height="5.5" rx="1.28" ry="2.48" fill="url(#gb)" opacity="0.8"/>
<rect x="125.4" y="410.05" width="8" height="5.5" rx="1.28" ry="2.48" fill="url(#gb)" opacity="0.75"/>
<rect x="36.9" y="419.1" width="8" height="6" rx="1.28" ry="2.7" fill="url(#gb)" opacity="0.5"/>
<rect x="45.2" y="419.1" width="8" height="6" rx="1.28" ry="2.7" fill="url(#gb)" opacity="0.7"/>
<rect x="53.4" y="419.1" width="8" height="6" rx="1.28" ry="2.7" fill="url(#gb)" opacity="0.95"/>
<rect x="61.5" y="419.1" width="8" height="6" rx="1.28" ry="2.7" fill="url(#gb)" opacity="1"/>
<rect x="69.7" y="419.1" width="8" height="6" rx="1.28" ry="2.7" fill="url(#gb)" opacity="1"/>
<rect x="77.6" y="419.1" width="8" height="6" rx="1.28" ry="2.7" fill="url(#gb)" opacity="0.95"/>
<rect x="85.9" y="419.1" width="8" height="6" rx="1.28" ry="2.7" fill="url(#gb)" opacity="0.95"/>
<rect x="93.8" y="419.1" width="8" height="6" rx="1.28" ry="2.7" fill="url(#gb)" opacity="0.95"/>
<rect x="102" y="419.1" width="8" height="6" rx="1.28" ry="2.7" fill="url(#gb)" opacity="0.95"/>
<rect x="110.1" y="419.1" width="8" height="6" rx="1.28" ry="2.7" fill="url(#gb)" opacity="0.95"/>
<rect x="117.9" y="419.1" width="8" height="6" rx="1.28" ry="2.7" fill="url(#gb)" opacity="0.9"/>
<rect x="125.4" y="419.1" width="8" height="6" rx="1.28" ry="2.7" fill="url(#gb)" opacity="0.95"/>
<path d="M85 361.8L85 435" stroke="#555" stroke-width="0.6"/>
<rect x="36.20" y="361.80" width="97.10" height="73.20" fill="none" stroke="#666" stroke-width="0.6"/>
<text class="sb e" x="33.4" y="367.2" font-size="3.4" stroke="#000" stroke-width="0.1">p-Akt</text>
<text class="sb e" x="33.4" y="376.2" font-size="3.4" stroke="#000" stroke-width="0.1">Akt</text>
<text class="sb e" x="33.4" y="383.7" font-size="3.4" stroke="#000" stroke-width="0.1">p-mTOR</text>
<text class="sb e" x="33.4" y="391.9" font-size="3.4" stroke="#000" stroke-width="0.1">mTOR</text>
<text class="sb e" x="33.4" y="399.2" font-size="3.4" stroke="#000" stroke-width="0.1">p-4EBP1</text>
<text class="sb e" x="33.4" y="406.9" font-size="3.4" stroke="#000" stroke-width="0.1">4EBP1</text>
<text class="sb e" x="33.4" y="415.2" font-size="3.4" stroke="#000" stroke-width="0.1">p-eIF4G</text>
<text class="sb e" x="33.4" y="423.7" font-size="3.4" stroke="#000" stroke-width="0.1">eIF4G</text>
<text class="sb e" x="33.4" y="430.2" font-size="3.4" stroke="#000" stroke-width="0.1">GAPDH</text>
<text class="sb e" x="35.5" y="438.7" font-size="3.2" stroke="#000" stroke-width="0.13">30uM MPA</text>
<text class="sb e" x="35.5" y="442.5" font-size="3.2" stroke="#000" stroke-width="0.13">30uM NOHAC</text>
<text class="sb e" x="35.5" y="446.1" font-size="3.2" stroke="#000" stroke-width="0.13">100nM T3</text>
<text class="ab m" x="57 65.2 105.9 114.1" y="438.8" font-size="3.4" fill="#222" stroke="#222" stroke-width="0.12">++++</text>
<text class="ab m" x="40.5 48.7 73.5 81.2 89.9 97.6 122.4 130.1" y="438.8" font-size="3.4" fill="#222" stroke="#222" stroke-width="0.12">––––––––</text>
<text class="ab m" x="73.5 81.2 122.4 130.1" y="442.6" font-size="3.4" fill="#222" stroke="#222" stroke-width="0.12">++++</text>
<text class="ab m" x="40.5 48.7 57 65.2 89.9 97.6 105.9 114.1" y="442.6" font-size="3.4" fill="#222" stroke="#222" stroke-width="0.12">––––––––</text>
<text class="ab m" x="48.7 65.2 81.2 97.6 114.1 130.1" y="446.2" font-size="3.4" fill="#222" stroke="#222" stroke-width="0.12">++++++</text>
<text class="ab m" x="40.5 57 73.5 89.9 105.9 122.4" y="446.2" font-size="3.4" fill="#222" stroke="#222" stroke-width="0.12">––––––</text>
<text class="sb m" x="352.2" y="368.3" font-size="5.3" stroke="#000" stroke-width="0.15">KLE cells</text>
<text class="s" x="150" y="382.6" font-size="6.2">D-1</text>
<path d="M169.2 386L169.2 429.4" stroke="#000" stroke-width="0.7"/>
<path d="M169.2 429.4L230 429.4" stroke="#000" stroke-width="0.7"/>
<path d="M167.6 429.4L169.2 429.4" stroke="#000" stroke-width="0.5"/>
<text class="a e" x="167.3" y="430.45" font-size="3.0" fill="#222" stroke="#222" stroke-width="0.14">0.0</text>
<path d="M167.6 420.72L169.2 420.72" stroke="#000" stroke-width="0.5"/>
<text class="a e" x="167.3" y="421.77" font-size="3.0" fill="#222" stroke="#222" stroke-width="0.14">0.5</text>
<path d="M167.6 412.04L169.2 412.04" stroke="#000" stroke-width="0.5"/>
<text class="a e" x="167.3" y="413.09" font-size="3.0" fill="#222" stroke="#222" stroke-width="0.14">1.0</text>
<path d="M167.6 403.36L169.2 403.36" stroke="#000" stroke-width="0.5"/>
<text class="a e" x="167.3" y="404.41" font-size="3.0" fill="#222" stroke="#222" stroke-width="0.14">1.5</text>
<path d="M167.6 394.68L169.2 394.68" stroke="#000" stroke-width="0.5"/>
<text class="a e" x="167.3" y="395.73" font-size="3.0" fill="#222" stroke="#222" stroke-width="0.14">2.0</text>
<path d="M167.6 386L169.2 386" stroke="#000" stroke-width="0.5"/>
<text class="a e" x="167.3" y="387.05" font-size="3.0" fill="#222" stroke="#222" stroke-width="0.14">2.5</text>
<text class="ab m" x="157.9" y="406" font-size="3.5" stroke="#000" stroke-width="0.16" transform="rotate(-90 157.9 406)">p-Akt/Akt</text>
<rect x="171.3" y="412.3" width="1.8" height="17.1" fill="#000" stroke="#000" stroke-width="0.65"/>
<path d="M175.8 412L175.8 414" stroke="#000" stroke-width="0.5"/>
<path d="M175 412L176.6 412" stroke="#000" stroke-width="0.5"/>
<rect x="174.7" y="414.3" width="2.2" height="15.1" fill="#c8c8c8" stroke="#000" stroke-width="0.65"/>
<path d="M182.5 392L182.5 401.6" stroke="#000" stroke-width="0.5"/>
<path d="M181.7 392L183.3 392" stroke="#000" stroke-width="0.5"/>
<rect x="181.3" y="401.9" width="2.4" height="27.5" fill="#000" stroke="#000" stroke-width="0.65"/>
<path d="M186.35 402L186.35 406" stroke="#000" stroke-width="0.5"/>
<path d="M185.55 402L187.15 402" stroke="#000" stroke-width="0.5"/>
<rect x="185.3" y="406.3" width="2.1" height="23.1" fill="#c8c8c8" stroke="#000" stroke-width="0.65"/>
<path d="M192.25 413.5L192.25 416.6" stroke="#000" stroke-width="0.5"/>
<path d="M191.45 413.5L193.05 413.5" stroke="#000" stroke-width="0.5"/>
<rect x="191.3" y="416.9" width="1.9" height="12.5" fill="#000" stroke="#000" stroke-width="0.65"/>
<path d="M196.3 414L196.3 415" stroke="#000" stroke-width="0.5"/>
<path d="M195.5 414L197.1 414" stroke="#000" stroke-width="0.5"/>
<rect x="195.1" y="415.3" width="2.4" height="14.1" fill="#fff" stroke="#000" stroke-width="0.65"/>
<path d="M202.8 413.5L202.8 416.6" stroke="#000" stroke-width="0.5"/>
<path d="M202 413.5L203.6 413.5" stroke="#000" stroke-width="0.5"/>
<rect x="201.9" y="416.9" width="1.8" height="12.5" fill="#000" stroke="#000" stroke-width="0.65"/>
<path d="M206.3 407L206.3 410" stroke="#000" stroke-width="0.5"/>
<path d="M205.5 407L207.1 407" stroke="#000" stroke-width="0.5"/>
<rect x="205.1" y="410.3" width="2.4" height="19.1" fill="#fff" stroke="#000" stroke-width="0.65"/>
<path d="M213.1 391L213.1 399" stroke="#000" stroke-width="0.5"/>
<path d="M212.3 391L213.9 391" stroke="#000" stroke-width="0.5"/>
<rect x="211.9" y="399.3" width="2.4" height="30.1" fill="#000" stroke="#000" stroke-width="0.65"/>
<path d="M216.9 398L216.9 401" stroke="#000" stroke-width="0.5"/>
<path d="M216.1 398L217.7 398" stroke="#000" stroke-width="0.5"/>
<rect x="215.7" y="401.3" width="2.4" height="28.1" fill="#c8c8c8" stroke="#000" stroke-width="0.65"/>
<path d="M223.15 392.5L223.15 401" stroke="#000" stroke-width="0.5"/>
<path d="M222.35 392.5L223.95 392.5" stroke="#000" stroke-width="0.5"/>
<rect x="221.9" y="401.3" width="2.5" height="28.1" fill="#000" stroke="#000" stroke-width="0.65"/>
<path d="M226.9 404L226.9 407" stroke="#000" stroke-width="0.5"/>
<path d="M226.1 404L227.7 404" stroke="#000" stroke-width="0.5"/>
<rect x="225.7" y="407.3" width="2.4" height="22.1" fill="#c8c8c8" stroke="#000" stroke-width="0.65"/>
<text class="a e" x="169.1" y="435.5" font-size="3.3" fill="#222" stroke="#222" stroke-width="0.18">MPA 30uM</text>
<text class="a e" x="169.1" y="440.9" font-size="3.3" fill="#222" stroke="#222" stroke-width="0.18">NOHAC 30uM</text>
<text class="a e" x="169.1" y="446.6" font-size="3.3" fill="#222" stroke="#222" stroke-width="0.18">T3 100nM</text>
<path d="M174 429.4v1.3M184.3 429.4v1.3M194.4 429.4v1.3M204.7 429.4v1.3M215 429.4v1.3M225 429.4v1.3" stroke="#000" stroke-width="0.5"/>
<text class="ab m" x="194.4 204.7" y="435.4" font-size="3.2" fill="#555" stroke="#555" stroke-width="0.1">++</text>
<text class="ab m" x="174 184.3 215 225" y="435.4" font-size="3.2" fill="#555" stroke="#555" stroke-width="0.1">––––</text>
<text class="ab m" x="215 225" y="440.8" font-size="3.2" fill="#555" stroke="#555" stroke-width="0.1">++</text>
<text class="ab m" x="174 184.3 194.4 204.7" y="440.8" font-size="3.2" fill="#555" stroke="#555" stroke-width="0.1">––––</text>
<text class="ab m" x="184.3 204.7 225" y="446.5" font-size="3.2" fill="#555" stroke="#555" stroke-width="0.1">+++</text>
<text class="ab m" x="174 194.4 215" y="446.5" font-size="3.2" fill="#555" stroke="#555" stroke-width="0.1">–––</text>
<rect x="232.1" y="389" width="4.1" height="2.4" fill="#000"/>
<text class="a" x="238.5" y="391.4" font-size="3.4" fill="#333" stroke="#333" stroke-width="0.1">si-Ctrl</text>
<rect x="232.35" y="394.5" width="3.8" height="2.3" fill="#9a9a9a" stroke="#222" stroke-width="0.5"/>
<text class="a" x="238.5" y="396.9" font-size="3.4" fill="#333" stroke="#333" stroke-width="0.1">si-THRB</text>
<text class="s" x="260" y="385" font-size="6.2">D-2</text>
<path d="M274.9 389L274.9 429" stroke="#000" stroke-width="0.7"/>
<path d="M274.9 429L336 429" stroke="#000" stroke-width="0.7"/>
<path d="M273.3 429L274.9 429" stroke="#000" stroke-width="0.5"/>
<text class="a e" x="273" y="430.05" font-size="3.0" fill="#222" stroke="#222" stroke-width="0.14">0.0</text>
<path d="M273.3 415.67L274.9 415.67" stroke="#000" stroke-width="0.5"/>
<text class="a e" x="273" y="416.72" font-size="3.0" fill="#222" stroke="#222" stroke-width="0.14">0.5</text>
<path d="M273.3 402.33L274.9 402.33" stroke="#000" stroke-width="0.5"/>
<text class="a e" x="273" y="403.38" font-size="3.0" fill="#222" stroke="#222" stroke-width="0.14">1.0</text>
<path d="M273.3 389L274.9 389" stroke="#000" stroke-width="0.5"/>
<text class="a e" x="273" y="390.05" font-size="3.0" fill="#222" stroke="#222" stroke-width="0.14">1.5</text>
<text class="ab m" x="266.4" y="409" font-size="3.5" stroke="#000" stroke-width="0.16" transform="rotate(-90 266.4 409)">p-mTOR/mTOR</text>
<rect x="276.9" y="402.7" width="2.2" height="26.3" fill="#000" stroke="#000" stroke-width="0.65"/>
<path d="M281.5 408.5L281.5 409.6" stroke="#000" stroke-width="0.5"/>
<path d="M280.7 408.5L282.3 408.5" stroke="#000" stroke-width="0.5"/>
<rect x="280.3" y="409.9" width="2.4" height="19.1" fill="#c8c8c8" stroke="#000" stroke-width="0.65"/>
<rect x="286.9" y="406.7" width="2.2" height="22.3" fill="#000" stroke="#000" stroke-width="0.65"/>
<path d="M292 410L292 411" stroke="#000" stroke-width="0.5"/>
<path d="M291.2 410L292.8 410" stroke="#000" stroke-width="0.5"/>
<rect x="290.9" y="411.3" width="2.2" height="17.7" fill="#c8c8c8" stroke="#000" stroke-width="0.65"/>
<rect x="296.9" y="419.9" width="2.2" height="9.1" fill="#000" stroke="#000" stroke-width="0.65"/>
<path d="M302 414.5L302 415.6" stroke="#000" stroke-width="0.5"/>
<path d="M301.2 414.5L302.8 414.5" stroke="#000" stroke-width="0.5"/>
<rect x="300.9" y="415.9" width="2.2" height="13.1" fill="#fff" stroke="#000" stroke-width="0.65"/>
<rect x="307.3" y="418.9" width="2.2" height="10.1" fill="#000" stroke="#000" stroke-width="0.65"/>
<path d="M312 412.5L312 413.6" stroke="#000" stroke-width="0.5"/>
<path d="M311.2 412.5L312.8 412.5" stroke="#000" stroke-width="0.5"/>
<rect x="310.9" y="413.9" width="2.2" height="15.1" fill="#fff" stroke="#000" stroke-width="0.65"/>
<path d="M318.4 409.5L318.4 411" stroke="#000" stroke-width="0.5"/>
<path d="M317.6 409.5L319.2 409.5" stroke="#000" stroke-width="0.5"/>
<rect x="317.3" y="411.3" width="2.2" height="17.7" fill="#000" stroke="#000" stroke-width="0.65"/>
<path d="M322.4 402L322.4 405" stroke="#000" stroke-width="0.5"/>
<path d="M321.6 402L323.2 402" stroke="#000" stroke-width="0.5"/>
<rect x="321.3" y="405.3" width="2.2" height="23.7" fill="#fff" stroke="#000" stroke-width="0.65"/>
<path d="M328.4 408L328.4 410" stroke="#000" stroke-width="0.5"/>
<path d="M327.6 408L329.2 408" stroke="#000" stroke-width="0.5"/>
<rect x="327.3" y="410.3" width="2.2" height="18.7" fill="#000" stroke="#000" stroke-width="0.65"/>
<path d="M332.4 400.5L332.4 405" stroke="#000" stroke-width="0.5"/>
<path d="M331.6 400.5L333.2 400.5" stroke="#000" stroke-width="0.5"/>
<rect x="331.3" y="405.3" width="2.2" height="23.7" fill="#fff" stroke="#000" stroke-width="0.65"/>
<path d="M275.9 400.6V399.1H283.3V400.6" fill="none" stroke="#333" stroke-width="0.55"/>
<text class="a m" x="279.6" y="398.85" font-size="2.6" fill="#555" stroke="#555" stroke-width="0.1">****</text>
<path d="M285.9 403.9V402.4H293.7V403.9" fill="none" stroke="#333" stroke-width="0.55"/>
<text class="a m" x="289.8" y="402.15" font-size="2.6" fill="#555" stroke="#555" stroke-width="0.1">****</text>
<path d="M295.9 413.5V412H303.7V413.5" fill="none" stroke="#333" stroke-width="0.55"/>
<text class="a m" x="299.8" y="411.75" font-size="2.6" fill="#555" stroke="#555" stroke-width="0.1">****</text>
<text class="a e" x="276.8" y="436" font-size="3.0" fill="#222" stroke="#222" stroke-width="0.18">MPA 30uM</text>
<text class="a e" x="276.8" y="441.5" font-size="3.0" fill="#222" stroke="#222" stroke-width="0.18">NOHAC 30uM</text>
<text class="a e" x="276.8" y="446.4" font-size="3.0" fill="#222" stroke="#222" stroke-width="0.18">T3 100nM</text>
<path d="M279.8 429v1.3M290 429v1.3M300 429v1.3M310.2 429v1.3M320.4 429v1.3M330.4 429v1.3" stroke="#000" stroke-width="0.5"/>
<text class="ab m" x="300 310.2" y="435.9" font-size="3.2" fill="#555" stroke="#555" stroke-width="0.1">++</text>
<text class="ab m" x="279.8 290 320.4 330.4" y="435.9" font-size="3.2" fill="#555" stroke="#555" stroke-width="0.1">––––</text>
<text class="ab m" x="320.4 330.4" y="441.4" font-size="3.2" fill="#555" stroke="#555" stroke-width="0.1">++</text>
<text class="ab m" x="279.8 290 300 310.2" y="441.4" font-size="3.2" fill="#555" stroke="#555" stroke-width="0.1">––––</text>
<text class="ab m" x="290 310.2 330.4" y="446.3" font-size="3.2" fill="#555" stroke="#555" stroke-width="0.1">+++</text>
<text class="ab m" x="279.8 300 320.4" y="446.3" font-size="3.2" fill="#555" stroke="#555" stroke-width="0.1">–––</text>
<text class="s" x="361.6" y="384.6" font-size="6.2">D-3</text>
<rect x="377.1" y="388.4" width="1.4" height="41.2" fill="#d4d4d4"/>
<path d="M376.8 388.4L376.8 429.6" stroke="#000" stroke-width="0.7"/>
<path d="M376.8 429.6L439 429.6" stroke="#000" stroke-width="0.7"/>
<path d="M375.2 429.6L376.8 429.6" stroke="#000" stroke-width="0.5"/>
<text class="a e" x="374.9" y="430.65" font-size="3.0" fill="#222" stroke="#222" stroke-width="0.14">0</text>
<path d="M375.2 415.87L376.8 415.87" stroke="#000" stroke-width="0.5"/>
<text class="a e" x="374.9" y="416.92" font-size="3.0" fill="#222" stroke="#222" stroke-width="0.14">1</text>
<path d="M375.2 402.13L376.8 402.13" stroke="#000" stroke-width="0.5"/>
<text class="a e" x="374.9" y="403.18" font-size="3.0" fill="#222" stroke="#222" stroke-width="0.14">2</text>
<path d="M375.2 388.4L376.8 388.4" stroke="#000" stroke-width="0.5"/>
<text class="a e" x="374.9" y="389.45" font-size="3.0" fill="#222" stroke="#222" stroke-width="0.14">3</text>
<text class="ab m" x="371.1" y="409" font-size="3.5" stroke="#000" stroke-width="0.16" transform="rotate(-90 371.1 409)">p-4EBP1/4EBP1</text>
<rect x="379.7" y="416.3" width="2" height="13.3" fill="#000" stroke="#000" stroke-width="0.65"/>
<path d="M384.5 393L384.5 395.6" stroke="#000" stroke-width="0.5"/>
<path d="M383.7 393L385.3 393" stroke="#000" stroke-width="0.5"/>
<rect x="383.3" y="395.9" width="2.4" height="33.7" fill="#fff" stroke="#000" stroke-width="0.65"/>
<path d="M391.3 401L391.3 403.6" stroke="#000" stroke-width="0.5"/>
<path d="M390.5 401L392.1 401" stroke="#000" stroke-width="0.5"/>
<rect x="390.3" y="403.9" width="2" height="25.7" fill="#000" stroke="#000" stroke-width="0.65"/>
<path d="M395.5 389.5L395.5 391.6" stroke="#000" stroke-width="0.5"/>
<path d="M394.7 389.5L396.3 389.5" stroke="#000" stroke-width="0.5"/>
<rect x="394.3" y="391.9" width="2.4" height="37.7" fill="#fff" stroke="#000" stroke-width="0.65"/>
<rect x="401.3" y="428.9" width="2" height="0.7" fill="#000" stroke="#000" stroke-width="0.65"/>
<rect x="404.7" y="429.3" width="2" height="0.3" fill="#fff" stroke="#000" stroke-width="0.65"/>
<path d="M412.3 427L412.3 428" stroke="#000" stroke-width="0.5"/>
<path d="M411.5 427L413.1 427" stroke="#000" stroke-width="0.5"/>
<rect x="411.3" y="428.3" width="2" height="1.3" fill="#000" stroke="#000" stroke-width="0.65"/>
<rect x="414.7" y="429.3" width="2" height="0.3" fill="#fff" stroke="#000" stroke-width="0.65"/>
<path d="M423.3 419L423.3 420" stroke="#000" stroke-width="0.5"/>
<path d="M422.5 419L424.1 419" stroke="#000" stroke-width="0.5"/>
<rect x="422.3" y="420.3" width="2" height="9.3" fill="#000" stroke="#000" stroke-width="0.65"/>
<rect x="425.9" y="425.9" width="2.2" height="3.7" fill="#c8c8c8" stroke="#000" stroke-width="0.65"/>
<path d="M433.7 418.5L433.7 419.6" stroke="#000" stroke-width="0.5"/>
<path d="M432.9 418.5L434.5 418.5" stroke="#000" stroke-width="0.5"/>
<rect x="432.7" y="419.9" width="2" height="9.7" fill="#000" stroke="#000" stroke-width="0.65"/>
<rect x="436.3" y="427.3" width="2.4" height="2.3" fill="#fff" stroke="#000" stroke-width="0.65"/>
<path d="M378.7 391.5V390H386.3V391.5" fill="none" stroke="#333" stroke-width="0.55"/>
<text class="a m" x="382.5" y="389.75" font-size="2.6" fill="#555" stroke="#555" stroke-width="0.1">****</text>
<path d="M389.3 388.1V386.6H397.3V388.1" fill="none" stroke="#333" stroke-width="0.55"/>
<text class="a m" x="393.3" y="386.35" font-size="2.6" fill="#555" stroke="#555" stroke-width="0.1">****</text>
<path d="M421.3 417.1V415.6H428.7V417.1" fill="none" stroke="#333" stroke-width="0.55"/>
<text class="a m" x="425" y="415.35" font-size="2.6" fill="#555" stroke="#555" stroke-width="0.1">****</text>
<path d="M431.7 416.9V415.4H439.3V416.9" fill="none" stroke="#333" stroke-width="0.55"/>
<text class="a m" x="435.5" y="415.15" font-size="2.6" fill="#555" stroke="#555" stroke-width="0.1">****</text>
<text class="a e" x="375.5" y="435.1" font-size="2.6" fill="#222" stroke="#222" stroke-width="0.18">MPA 30uM</text>
<text class="a e" x="375.5" y="441.1" font-size="2.6" fill="#222" stroke="#222" stroke-width="0.18">NOHAC 30uM</text>
<text class="a e" x="375.5" y="446.1" font-size="2.6" fill="#222" stroke="#222" stroke-width="0.18">T3 100nM</text>
<path d="M382.7 429.6v1.3M393 429.6v1.3M403.6 429.6v1.3M414 429.6v1.3M424.5 429.6v1.3M435 429.6v1.3" stroke="#000" stroke-width="0.5"/>
<text class="ab m" x="403.6 414" y="435" font-size="3.2" fill="#555" stroke="#555" stroke-width="0.1">++</text>
<text class="ab m" x="382.7 393 424.5 435" y="435" font-size="3.2" fill="#555" stroke="#555" stroke-width="0.1">––––</text>
<text class="ab m" x="424.5 435" y="441" font-size="3.2" fill="#555" stroke="#555" stroke-width="0.1">++</text>
<text class="ab m" x="382.7 393 403.6 414" y="441" font-size="3.2" fill="#555" stroke="#555" stroke-width="0.1">––––</text>
<text class="ab m" x="393 414 435" y="446" font-size="3.2" fill="#555" stroke="#555" stroke-width="0.1">+++</text>
<text class="ab m" x="382.7 403.6 424.5" y="446" font-size="3.2" fill="#555" stroke="#555" stroke-width="0.1">–––</text>
<text class="s" x="460" y="386.6" font-size="6.2">D-4</text>
<rect x="475.1" y="389.6" width="1.4" height="40" fill="#d4d4d4"/>
<path d="M474.8 389.6L474.8 429.6" stroke="#000" stroke-width="0.7"/>
<path d="M474.8 429.6L535.6 429.6" stroke="#000" stroke-width="0.7"/>
<path d="M473.2 429.6L474.8 429.6" stroke="#000" stroke-width="0.5"/>
<text class="a e" x="472.9" y="430.65" font-size="3.0" fill="#222" stroke="#222" stroke-width="0.14">0</text>
<path d="M473.2 416.27L474.8 416.27" stroke="#000" stroke-width="0.5"/>
<text class="a e" x="472.9" y="417.32" font-size="3.0" fill="#222" stroke="#222" stroke-width="0.14">1</text>
<path d="M473.2 402.93L474.8 402.93" stroke="#000" stroke-width="0.5"/>
<text class="a e" x="472.9" y="403.98" font-size="3.0" fill="#222" stroke="#222" stroke-width="0.14">2</text>
<path d="M473.2 389.6L474.8 389.6" stroke="#000" stroke-width="0.5"/>
<text class="a e" x="472.9" y="390.65" font-size="3.0" fill="#222" stroke="#222" stroke-width="0.14">3</text>
<text class="ab m" x="468.6" y="410.8" font-size="3.5" stroke="#000" stroke-width="0.16" transform="rotate(-90 468.6 410.8)">p-eIF4G/eIF4G</text>
<rect x="477.3" y="416.7" width="2" height="12.9" fill="#000" stroke="#000" stroke-width="0.65"/>
<path d="M482.1 409L482.1 410.4" stroke="#000" stroke-width="0.5"/>
<path d="M481.3 409L482.9 409" stroke="#000" stroke-width="0.5"/>
<rect x="480.9" y="410.7" width="2.4" height="18.9" fill="#fff" stroke="#000" stroke-width="0.65"/>
<path d="M488.3 412.5L488.3 414" stroke="#000" stroke-width="0.5"/>
<path d="M487.5 412.5L489.1 412.5" stroke="#000" stroke-width="0.5"/>
<rect x="487.3" y="414.3" width="2" height="15.3" fill="#000" stroke="#000" stroke-width="0.65"/>
<path d="M492.5 403L492.5 405.6" stroke="#000" stroke-width="0.5"/>
<path d="M491.7 403L493.3 403" stroke="#000" stroke-width="0.5"/>
<rect x="491.3" y="405.9" width="2.4" height="23.7" fill="#fff" stroke="#000" stroke-width="0.65"/>
<path d="M498.7 416L498.7 417.6" stroke="#000" stroke-width="0.5"/>
<path d="M497.9 416L499.5 416" stroke="#000" stroke-width="0.5"/>
<rect x="497.7" y="417.9" width="2" height="11.7" fill="#000" stroke="#000" stroke-width="0.65"/>
<path d="M502.5 409.5L502.5 411.6" stroke="#000" stroke-width="0.5"/>
<path d="M501.7 409.5L503.3 409.5" stroke="#000" stroke-width="0.5"/>
<rect x="501.3" y="411.9" width="2.4" height="17.7" fill="#fff" stroke="#000" stroke-width="0.65"/>
<path d="M508.8 418L508.8 419" stroke="#000" stroke-width="0.5"/>
<path d="M508 418L509.6 418" stroke="#000" stroke-width="0.5"/>
<rect x="507.9" y="419.3" width="1.8" height="10.3" fill="#000" stroke="#000" stroke-width="0.65"/>
<path d="M512.5 410L512.5 411.6" stroke="#000" stroke-width="0.5"/>
<path d="M511.7 410L513.3 410" stroke="#000" stroke-width="0.5"/>
<rect x="511.3" y="411.9" width="2.4" height="17.7" fill="#c8c8c8" stroke="#000" stroke-width="0.65"/>
<path d="M519.2 414L519.2 415" stroke="#000" stroke-width="0.5"/>
<path d="M518.4 414L520 414" stroke="#000" stroke-width="0.5"/>
<rect x="518.3" y="415.3" width="1.8" height="14.3" fill="#000" stroke="#000" stroke-width="0.65"/>
<path d="M522.5 399L522.5 400.4" stroke="#000" stroke-width="0.5"/>
<path d="M521.7 399L523.3 399" stroke="#000" stroke-width="0.5"/>
<rect x="521.3" y="400.7" width="2.4" height="28.9" fill="#c8c8c8" stroke="#000" stroke-width="0.65"/>
<path d="M529.2 412L529.2 413" stroke="#000" stroke-width="0.5"/>
<path d="M528.4 412L530 412" stroke="#000" stroke-width="0.5"/>
<rect x="528.3" y="413.3" width="1.8" height="16.3" fill="#000" stroke="#000" stroke-width="0.65"/>
<path d="M532.9 406.5L532.9 408" stroke="#000" stroke-width="0.5"/>
<path d="M532.1 406.5L533.7 406.5" stroke="#000" stroke-width="0.5"/>
<rect x="531.7" y="408.3" width="2.4" height="21.3" fill="#fff" stroke="#000" stroke-width="0.65"/>
<path d="M476.3 407.3V405.8H483.9V407.3" fill="none" stroke="#333" stroke-width="0.55"/>
<text class="a m" x="480.1" y="405.55" font-size="2.6" fill="#555" stroke="#555" stroke-width="0.1">****</text>
<path d="M486.3 400.3V398.8H494.3V400.3" fill="none" stroke="#333" stroke-width="0.55"/>
<text class="a m" x="490.3" y="398.55" font-size="2.6" fill="#555" stroke="#555" stroke-width="0.1">****</text>
<path d="M506.9 409.3V407.8H514.3V409.3" fill="none" stroke="#333" stroke-width="0.55"/>
<text class="a m" x="510.6" y="407.55" font-size="2.6" fill="#555" stroke="#555" stroke-width="0.1">****</text>
<path d="M517.3 396.7V395.2H524.3V396.7" fill="none" stroke="#333" stroke-width="0.55"/>
<text class="a m" x="520.8" y="394.95" font-size="2.6" fill="#555" stroke="#555" stroke-width="0.1">****</text>
<path d="M527.3 405.3V403.8H534.7V405.3" fill="none" stroke="#333" stroke-width="0.55"/>
<text class="a m" x="531" y="403.55" font-size="2.6" fill="#555" stroke="#555" stroke-width="0.1">****</text>
<text class="a e" x="477.2" y="436" font-size="2.9" fill="#222" stroke="#222" stroke-width="0.18">MPA 30uM</text>
<text class="a e" x="477.2" y="441.5" font-size="2.9" fill="#222" stroke="#222" stroke-width="0.18">NOHAC 30uM</text>
<text class="a e" x="477.2" y="446.4" font-size="2.9" fill="#222" stroke="#222" stroke-width="0.18">T3 100nM</text>
<path d="M480.3 429.6v1.3M490.5 429.6v1.3M500.7 429.6v1.3M510.8 429.6v1.3M521 429.6v1.3M531.2 429.6v1.3" stroke="#000" stroke-width="0.5"/>
<text class="ab m" x="500.7 510.8" y="435.9" font-size="3.2" fill="#555" stroke="#555" stroke-width="0.1">++</text>
<text class="ab m" x="480.3 490.5 521 531.2" y="435.9" font-size="3.2" fill="#555" stroke="#555" stroke-width="0.1">––––</text>
<text class="ab m" x="521 531.2" y="441.4" font-size="3.2" fill="#555" stroke="#555" stroke-width="0.1">++</text>
<text class="ab m" x="480.3 490.5 500.7 510.8" y="441.4" font-size="3.2" fill="#555" stroke="#555" stroke-width="0.1">––––</text>
<text class="ab m" x="490.5 510.8 531.2" y="446.3" font-size="3.2" fill="#555" stroke="#555" stroke-width="0.1">+++</text>
<text class="ab m" x="480.3 500.7 521" y="446.3" font-size="3.2" fill="#555" stroke="#555" stroke-width="0.1">–––</text>
</svg>
</body></html>
